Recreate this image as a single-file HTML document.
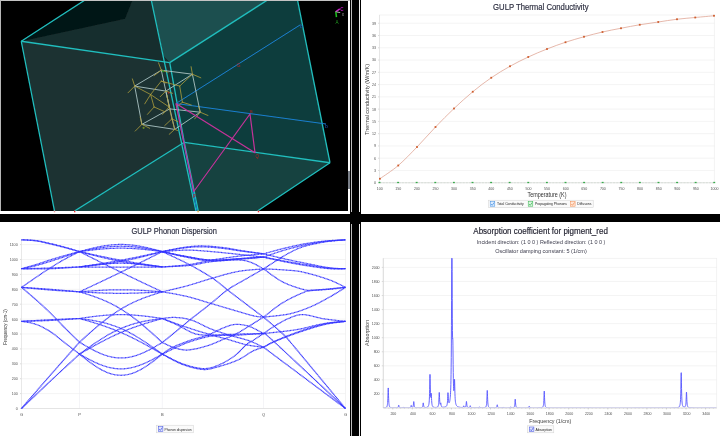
<!DOCTYPE html>
<html><head><meta charset="utf-8"><title>GULP plots</title>
<style>html,body{margin:0;padding:0;background:#000;overflow:hidden}svg{display:block}text{font-family:"Liberation Sans", sans-serif}</style>
</head><body>
<svg width="720" height="436" viewBox="0 0 720 436">
<defs><filter id="soft" x="0" y="0" width="100%" height="100%" filterUnits="userSpaceOnUse"><feGaussianBlur stdDeviation="0.35"/></filter></defs>
<rect x="0" y="0" width="720" height="436" fill="#000"/>
<g filter="url(#soft)">
<g shape-rendering="crispEdges">
<rect x="0" y="0" width="350" height="214" fill="#fff"/>
<rect x="0" y="0" width="350" height="1" fill="#c4c4c4"/>
<rect x="0" y="0" width="1" height="211" fill="#b8b8b8"/>
<rect x="1" y="1" width="347" height="209.5" fill="#000"/>
<rect x="351" y="0" width="1" height="212" fill="#bdbdbd"/>
<rect x="359" y="0" width="1" height="212" fill="#f0f0f0"/>
<rect x="351" y="224" width="1" height="212" fill="#bdbdbd"/>
<rect x="359" y="224" width="1" height="212" fill="#f0f0f0"/>
<rect x="361" y="0" width="359" height="214" fill="#fff"/>
<rect x="0" y="222" width="350" height="214" fill="#fff"/>
<rect x="361" y="222" width="359" height="214" fill="#fff"/>
</g>
<defs><clipPath id="ctl"><rect x="1" y="1" width="347" height="210"/></clipPath></defs>
<g clip-path="url(#ctl)">
<polygon points="21.25,41.25 85,0 151.25,0 163.5,56 169.7,62.6" fill="#162d2d" />
<polygon points="21.25,41.25 85,0 132.5,0 125,18.75" fill="#021616" />
<polygon points="21.25,41.25 169.7,62.6 184.3,142.3 74.5,211 54.5,211" fill="#1b3232" />
<polygon points="151.25,0 267.5,0 169.7,62.6 163.5,56" fill="#1c5050" />
<polygon points="169.7,62.6 267.5,0 297.5,0 330,162.75 184.3,142.3" fill="#0f3e3c" />
<polygon points="184.3,142.3 330,162.75 257.5,211 74.5,211" fill="#12423f" />
<line x1="21.25" y1="41.25" x2="85" y2="0" stroke="#21bebe" stroke-width="1.3" />
<line x1="21.25" y1="41.25" x2="169.7" y2="62.6" stroke="#21bebe" stroke-width="1.3" />
<line x1="21.25" y1="41.25" x2="54.5" y2="211" stroke="#21bebe" stroke-width="1.3" />
<line x1="169.7" y1="62.6" x2="267.5" y2="0" stroke="#21bebe" stroke-width="1.3" />
<line x1="151.25" y1="0" x2="195.9" y2="211" stroke="#21bebe" stroke-width="1.3" />
<line x1="169.7" y1="62.6" x2="184.3" y2="142.3" stroke="#21bebe" stroke-width="1.3" />
<line x1="330" y1="162.75" x2="297.5" y2="0" stroke="#21bebe" stroke-width="1.3" />
<line x1="330" y1="162.75" x2="184.3" y2="142.3" stroke="#21bebe" stroke-width="1.3" />
<line x1="330" y1="162.75" x2="257.5" y2="211" stroke="#21bebe" stroke-width="1.3" />
<line x1="184.3" y1="142.3" x2="74.5" y2="211" stroke="#21bebe" stroke-width="1.3" />
<line x1="184.3" y1="142.3" x2="198.2" y2="211" stroke="#21bebe" stroke-width="1.3" />
<line x1="176" y1="103.5" x2="300" y2="25" stroke="#1a7fd0" stroke-width="1" />
<line x1="176" y1="103.5" x2="326" y2="124" stroke="#1a7fd0" stroke-width="1" />
<line x1="176" y1="103.5" x2="197" y2="211" stroke="#1a7fd0" stroke-width="1" />
<line x1="161.3" y1="70.2" x2="192.4" y2="74.2" stroke="#b4cccc" stroke-width="1" opacity="0.85"/>
<line x1="192.4" y1="74.2" x2="165.8" y2="91.1" stroke="#b4cccc" stroke-width="1" opacity="0.85"/>
<line x1="165.8" y1="91.1" x2="134.7" y2="86.1" stroke="#b4cccc" stroke-width="1" opacity="0.85"/>
<line x1="134.7" y1="86.1" x2="161.3" y2="70.2" stroke="#b4cccc" stroke-width="1" opacity="0.85"/>
<line x1="169.7" y1="108.9" x2="200.2" y2="112.2" stroke="#b4cccc" stroke-width="1" opacity="0.85"/>
<line x1="200.2" y1="112.2" x2="174.7" y2="129.4" stroke="#b4cccc" stroke-width="1" opacity="0.85"/>
<line x1="174.7" y1="129.4" x2="141.9" y2="124.4" stroke="#b4cccc" stroke-width="1" opacity="0.85"/>
<line x1="141.9" y1="124.4" x2="169.7" y2="108.9" stroke="#b4cccc" stroke-width="1" opacity="0.85"/>
<line x1="161.3" y1="70.2" x2="169.7" y2="108.9" stroke="#b4cccc" stroke-width="1" opacity="0.85"/>
<line x1="192.4" y1="74.2" x2="200.2" y2="112.2" stroke="#b4cccc" stroke-width="1" opacity="0.85"/>
<line x1="165.8" y1="91.1" x2="174.7" y2="129.4" stroke="#b4cccc" stroke-width="1" opacity="0.85"/>
<line x1="134.7" y1="86.1" x2="141.9" y2="124.4" stroke="#b4cccc" stroke-width="1" opacity="0.85"/>
<line x1="161.3" y1="70.2" x2="158.5" y2="62.8" stroke="#ad9c3c" stroke-width="0.95" stroke-linecap="round" opacity="0.85"/>
<line x1="161.3" y1="70.2" x2="154.1" y2="75.6" stroke="#ad9c3c" stroke-width="0.95" stroke-linecap="round" opacity="0.85"/>
<line x1="161.3" y1="70.2" x2="168" y2="72.2" stroke="#ad9c3c" stroke-width="0.95" stroke-linecap="round" opacity="0.85"/>
<line x1="192.4" y1="74.2" x2="191.1" y2="66.7" stroke="#ad9c3c" stroke-width="0.95" stroke-linecap="round" opacity="0.85"/>
<line x1="192.4" y1="74.2" x2="200.8" y2="77.8" stroke="#ad9c3c" stroke-width="0.95" stroke-linecap="round" opacity="0.85"/>
<line x1="192.4" y1="74.2" x2="179.7" y2="86.1" stroke="#ad9c3c" stroke-width="0.95" stroke-linecap="round" opacity="0.85"/>
<line x1="134.7" y1="86.1" x2="132.4" y2="78.9" stroke="#ad9c3c" stroke-width="0.95" stroke-linecap="round" opacity="0.85"/>
<line x1="134.7" y1="86.1" x2="128" y2="92.8" stroke="#ad9c3c" stroke-width="0.95" stroke-linecap="round" opacity="0.85"/>
<line x1="134.7" y1="86.1" x2="150.6" y2="94.5" stroke="#ad9c3c" stroke-width="0.95" stroke-linecap="round" opacity="0.85"/>
<line x1="150.6" y1="94.5" x2="161.3" y2="81.1" stroke="#ad9c3c" stroke-width="0.95" stroke-linecap="round" opacity="0.85"/>
<line x1="150.6" y1="94.5" x2="154.1" y2="107" stroke="#ad9c3c" stroke-width="0.95" stroke-linecap="round" opacity="0.85"/>
<line x1="161.3" y1="81.1" x2="179.7" y2="86.1" stroke="#ad9c3c" stroke-width="0.95" stroke-linecap="round" opacity="0.85"/>
<line x1="179.7" y1="86.1" x2="182.4" y2="102.2" stroke="#ad9c3c" stroke-width="0.95" stroke-linecap="round" opacity="0.85"/>
<line x1="161.3" y1="81.1" x2="166" y2="83" stroke="#ad9c3c" stroke-width="0.95" stroke-linecap="round" opacity="0.85"/>
<line x1="165.8" y1="91.1" x2="160.2" y2="96.7" stroke="#ad9c3c" stroke-width="0.95" stroke-linecap="round" opacity="0.85"/>
<line x1="165.8" y1="91.1" x2="172.5" y2="93.3" stroke="#ad9c3c" stroke-width="0.95" stroke-linecap="round" opacity="0.85"/>
<line x1="182.4" y1="102.2" x2="191.3" y2="105" stroke="#ad9c3c" stroke-width="0.95" stroke-linecap="round" opacity="0.85"/>
<line x1="182.4" y1="102.2" x2="178" y2="106" stroke="#ad9c3c" stroke-width="0.95" stroke-linecap="round" opacity="0.85"/>
<line x1="141.9" y1="124.4" x2="135.2" y2="131.1" stroke="#ad9c3c" stroke-width="0.95" stroke-linecap="round" opacity="0.85"/>
<line x1="141.9" y1="124.4" x2="149.7" y2="128.3" stroke="#ad9c3c" stroke-width="0.95" stroke-linecap="round" opacity="0.85"/>
<line x1="141.9" y1="124.4" x2="140.2" y2="117.2" stroke="#ad9c3c" stroke-width="0.95" stroke-linecap="round" opacity="0.85"/>
<line x1="174.7" y1="129.4" x2="169.1" y2="134.4" stroke="#ad9c3c" stroke-width="0.95" stroke-linecap="round" opacity="0.85"/>
<line x1="174.7" y1="129.4" x2="171.9" y2="118.9" stroke="#ad9c3c" stroke-width="0.95" stroke-linecap="round" opacity="0.85"/>
<line x1="174.7" y1="129.4" x2="177.5" y2="130.5" stroke="#ad9c3c" stroke-width="0.95" stroke-linecap="round" opacity="0.85"/>
<line x1="200.2" y1="112.2" x2="208" y2="115.5" stroke="#ad9c3c" stroke-width="0.95" stroke-linecap="round" opacity="0.85"/>
<line x1="200.2" y1="112.2" x2="194.7" y2="118.9" stroke="#ad9c3c" stroke-width="0.95" stroke-linecap="round" opacity="0.85"/>
<line x1="200.2" y1="112.2" x2="198.5" y2="106" stroke="#ad9c3c" stroke-width="0.95" stroke-linecap="round" opacity="0.85"/>
<line x1="150.6" y1="94.5" x2="144.7" y2="103.9" stroke="#ad9c3c" stroke-width="0.95" stroke-linecap="round" opacity="0.85"/>
<line x1="150.6" y1="94.5" x2="169.1" y2="107" stroke="#ad9c3c" stroke-width="0.95" stroke-linecap="round" opacity="0.85"/>
<line x1="154.1" y1="107" x2="147.4" y2="114.4" stroke="#ad9c3c" stroke-width="0.95" stroke-linecap="round" opacity="0.85"/>
<line x1="154.1" y1="107" x2="164.7" y2="111.7" stroke="#ad9c3c" stroke-width="0.95" stroke-linecap="round" opacity="0.85"/>
<line x1="169.1" y1="107" x2="166.9" y2="95" stroke="#ad9c3c" stroke-width="0.95" stroke-linecap="round" opacity="0.85"/>
<line x1="169.1" y1="107" x2="171.9" y2="118.9" stroke="#ad9c3c" stroke-width="0.95" stroke-linecap="round" opacity="0.85"/>
<line x1="169.1" y1="107" x2="162.4" y2="114.4" stroke="#ad9c3c" stroke-width="0.95" stroke-linecap="round" opacity="0.85"/>
<line x1="171.9" y1="118.9" x2="164.7" y2="125.6" stroke="#ad9c3c" stroke-width="0.95" stroke-linecap="round" opacity="0.85"/>
<line x1="171.9" y1="118.9" x2="178" y2="121.7" stroke="#ad9c3c" stroke-width="0.95" stroke-linecap="round" opacity="0.85"/>
<circle cx="163" cy="71.3" r="1" fill="#2a9a2a"/>
<circle cx="168.6" cy="92.8" r="0.9" fill="#a02828"/>
<circle cx="143.6" cy="127.8" r="1.1" fill="#6c8a22"/>
<polyline points="176,103.5 255,152.75 250,114 193.75,191.5 176,103.5" fill="none" stroke="#c4329a" stroke-width="1.2" stroke-linejoin="round"/>
<text x="237" y="67" font-size="4.5" fill="#c02020">G</text>
<text x="255.5" y="158" font-size="4.5" fill="#c02020">Q</text>
<text x="193" y="198" font-size="4.5" fill="#c02020">P</text>
<text x="250" y="113" font-size="4" fill="#c02020">B</text>
<text x="300" y="28" font-size="5" fill="#1a58c0">b</text>
<text x="325" y="128" font-size="5" fill="#1a58c0">b</text>
<line x1="335.6" y1="11.8" x2="339.8" y2="8.9" stroke="#c822c8" stroke-width="1.5" />
<line x1="335.6" y1="11.8" x2="340.2" y2="12.6" stroke="#b8b8b8" stroke-width="0.9" />
<line x1="335.8" y1="11.8" x2="336.5" y2="17.2" stroke="#20c020" stroke-width="1.5" />
<text x="340.2" y="10.7" font-size="4.6" font-weight="bold" fill="#b818b8">C</text>
<text x="335.6" y="23.7" font-size="4.6" fill="#1f9a1f">A</text>
<text x="341.8" y="15.6" font-size="4.6" fill="#9a9a9a">x</text>
</g>
<rect x="348" y="171" width="2" height="18" fill="#7a7f88"/>
<rect x="53.8" y="210.6" width="1.4" height="1.7" fill="#f49a9a"/>
<rect x="74" y="210.6" width="1.4" height="1.7" fill="#f03030"/>
<rect x="197.4" y="210.6" width="1.4" height="1.7" fill="#f0b040"/>
<rect x="257.8" y="210.6" width="1.4" height="1.7" fill="#f03030"/>
<g>
<text x="540.8" y="9.5" font-size="8.2" fill="#2e3042" text-anchor="middle" textLength="95.5" lengthAdjust="spacingAndGlyphs"  stroke="#2e3042" stroke-width="0.18">GULP Thermal Conductivity</text>
<rect x="379.5" y="15" width="334.75" height="167.75" fill="#fff" stroke="#ececec" stroke-width="0.6"/>
<line x1="379.5" y1="170.48" x2="714.25" y2="170.48" stroke="#ececec" stroke-width="0.6"/>
<line x1="379.5" y1="158.21" x2="714.25" y2="158.21" stroke="#ececec" stroke-width="0.6"/>
<line x1="379.5" y1="145.94" x2="714.25" y2="145.94" stroke="#ececec" stroke-width="0.6"/>
<line x1="379.5" y1="133.67" x2="714.25" y2="133.67" stroke="#ececec" stroke-width="0.6"/>
<line x1="379.5" y1="121.4" x2="714.25" y2="121.4" stroke="#ececec" stroke-width="0.6"/>
<line x1="379.5" y1="109.13" x2="714.25" y2="109.13" stroke="#ececec" stroke-width="0.6"/>
<line x1="379.5" y1="96.87" x2="714.25" y2="96.87" stroke="#ececec" stroke-width="0.6"/>
<line x1="379.5" y1="84.6" x2="714.25" y2="84.6" stroke="#ececec" stroke-width="0.6"/>
<line x1="379.5" y1="72.33" x2="714.25" y2="72.33" stroke="#ececec" stroke-width="0.6"/>
<line x1="379.5" y1="60.06" x2="714.25" y2="60.06" stroke="#ececec" stroke-width="0.6"/>
<line x1="379.5" y1="47.79" x2="714.25" y2="47.79" stroke="#ececec" stroke-width="0.6"/>
<line x1="379.5" y1="35.52" x2="714.25" y2="35.52" stroke="#ececec" stroke-width="0.6"/>
<line x1="379.5" y1="23.25" x2="714.25" y2="23.25" stroke="#ececec" stroke-width="0.6"/>
<text x="376" y="184.15" font-size="4.2" fill="#505050" text-anchor="end" textLength="2.05" lengthAdjust="spacingAndGlyphs" >0</text>
<line x1="378" y1="182.75" x2="379.5" y2="182.75" stroke="#bbb" stroke-width="0.5"/>
<text x="376" y="171.88" font-size="4.2" fill="#505050" text-anchor="end" textLength="2.05" lengthAdjust="spacingAndGlyphs" >3</text>
<line x1="378" y1="170.48" x2="379.5" y2="170.48" stroke="#bbb" stroke-width="0.5"/>
<text x="376" y="159.61" font-size="4.2" fill="#505050" text-anchor="end" textLength="2.05" lengthAdjust="spacingAndGlyphs" >6</text>
<line x1="378" y1="158.21" x2="379.5" y2="158.21" stroke="#bbb" stroke-width="0.5"/>
<text x="376" y="147.34" font-size="4.2" fill="#505050" text-anchor="end" textLength="2.05" lengthAdjust="spacingAndGlyphs" >9</text>
<line x1="378" y1="145.94" x2="379.5" y2="145.94" stroke="#bbb" stroke-width="0.5"/>
<text x="376" y="135.07" font-size="4.2" fill="#505050" text-anchor="end" textLength="4" lengthAdjust="spacingAndGlyphs" >12</text>
<line x1="378" y1="133.67" x2="379.5" y2="133.67" stroke="#bbb" stroke-width="0.5"/>
<text x="376" y="122.8" font-size="4.2" fill="#505050" text-anchor="end" textLength="4" lengthAdjust="spacingAndGlyphs" >15</text>
<line x1="378" y1="121.4" x2="379.5" y2="121.4" stroke="#bbb" stroke-width="0.5"/>
<text x="376" y="110.53" font-size="4.2" fill="#505050" text-anchor="end" textLength="4" lengthAdjust="spacingAndGlyphs" >18</text>
<line x1="378" y1="109.13" x2="379.5" y2="109.13" stroke="#bbb" stroke-width="0.5"/>
<text x="376" y="98.27" font-size="4.2" fill="#505050" text-anchor="end" textLength="4" lengthAdjust="spacingAndGlyphs" >21</text>
<line x1="378" y1="96.87" x2="379.5" y2="96.87" stroke="#bbb" stroke-width="0.5"/>
<text x="376" y="86" font-size="4.2" fill="#505050" text-anchor="end" textLength="4" lengthAdjust="spacingAndGlyphs" >24</text>
<line x1="378" y1="84.6" x2="379.5" y2="84.6" stroke="#bbb" stroke-width="0.5"/>
<text x="376" y="73.73" font-size="4.2" fill="#505050" text-anchor="end" textLength="4" lengthAdjust="spacingAndGlyphs" >27</text>
<line x1="378" y1="72.33" x2="379.5" y2="72.33" stroke="#bbb" stroke-width="0.5"/>
<text x="376" y="61.46" font-size="4.2" fill="#505050" text-anchor="end" textLength="4" lengthAdjust="spacingAndGlyphs" >30</text>
<line x1="378" y1="60.06" x2="379.5" y2="60.06" stroke="#bbb" stroke-width="0.5"/>
<text x="376" y="49.19" font-size="4.2" fill="#505050" text-anchor="end" textLength="4" lengthAdjust="spacingAndGlyphs" >33</text>
<line x1="378" y1="47.79" x2="379.5" y2="47.79" stroke="#bbb" stroke-width="0.5"/>
<text x="376" y="36.92" font-size="4.2" fill="#505050" text-anchor="end" textLength="4" lengthAdjust="spacingAndGlyphs" >36</text>
<line x1="378" y1="35.52" x2="379.5" y2="35.52" stroke="#bbb" stroke-width="0.5"/>
<text x="376" y="24.65" font-size="4.2" fill="#505050" text-anchor="end" textLength="4" lengthAdjust="spacingAndGlyphs" >39</text>
<line x1="378" y1="23.25" x2="379.5" y2="23.25" stroke="#bbb" stroke-width="0.5"/>
<line x1="379.5" y1="15" x2="379.5" y2="182.75" stroke="#e0e0e0" stroke-width="0.7"/>
<line x1="379.5" y1="182.75" x2="714.25" y2="182.75" stroke="#e0e0e0" stroke-width="0.7"/>
<text x="379.7" y="190" font-size="4.2" fill="#505050" text-anchor="middle" textLength="5.95" lengthAdjust="spacingAndGlyphs" >100</text>
<text x="398.3" y="190" font-size="4.2" fill="#505050" text-anchor="middle" textLength="5.95" lengthAdjust="spacingAndGlyphs" >150</text>
<text x="416.89" y="190" font-size="4.2" fill="#505050" text-anchor="middle" textLength="5.95" lengthAdjust="spacingAndGlyphs" >200</text>
<text x="435.49" y="190" font-size="4.2" fill="#505050" text-anchor="middle" textLength="5.95" lengthAdjust="spacingAndGlyphs" >250</text>
<text x="454.09" y="190" font-size="4.2" fill="#505050" text-anchor="middle" textLength="5.95" lengthAdjust="spacingAndGlyphs" >300</text>
<text x="472.69" y="190" font-size="4.2" fill="#505050" text-anchor="middle" textLength="5.95" lengthAdjust="spacingAndGlyphs" >350</text>
<text x="491.28" y="190" font-size="4.2" fill="#505050" text-anchor="middle" textLength="5.95" lengthAdjust="spacingAndGlyphs" >400</text>
<text x="509.88" y="190" font-size="4.2" fill="#505050" text-anchor="middle" textLength="5.95" lengthAdjust="spacingAndGlyphs" >450</text>
<text x="528.48" y="190" font-size="4.2" fill="#505050" text-anchor="middle" textLength="5.95" lengthAdjust="spacingAndGlyphs" >500</text>
<text x="547.08" y="190" font-size="4.2" fill="#505050" text-anchor="middle" textLength="5.95" lengthAdjust="spacingAndGlyphs" >550</text>
<text x="565.67" y="190" font-size="4.2" fill="#505050" text-anchor="middle" textLength="5.95" lengthAdjust="spacingAndGlyphs" >600</text>
<text x="584.27" y="190" font-size="4.2" fill="#505050" text-anchor="middle" textLength="5.95" lengthAdjust="spacingAndGlyphs" >650</text>
<text x="602.87" y="190" font-size="4.2" fill="#505050" text-anchor="middle" textLength="5.95" lengthAdjust="spacingAndGlyphs" >700</text>
<text x="621.46" y="190" font-size="4.2" fill="#505050" text-anchor="middle" textLength="5.95" lengthAdjust="spacingAndGlyphs" >750</text>
<text x="640.06" y="190" font-size="4.2" fill="#505050" text-anchor="middle" textLength="5.95" lengthAdjust="spacingAndGlyphs" >800</text>
<text x="658.66" y="190" font-size="4.2" fill="#505050" text-anchor="middle" textLength="5.95" lengthAdjust="spacingAndGlyphs" >850</text>
<text x="677.26" y="190" font-size="4.2" fill="#505050" text-anchor="middle" textLength="5.95" lengthAdjust="spacingAndGlyphs" >900</text>
<text x="695.85" y="190" font-size="4.2" fill="#505050" text-anchor="middle" textLength="5.95" lengthAdjust="spacingAndGlyphs" >950</text>
<text x="714.45" y="190" font-size="4.2" fill="#505050" text-anchor="middle" textLength="7.9" lengthAdjust="spacingAndGlyphs" >1000</text>
<text transform="translate(368.6,99.5) rotate(-90)" font-size="5.8" fill="#3c3c3c" text-anchor="middle" textLength="71" lengthAdjust="spacingAndGlyphs">Thermal conductivity (W/m/K)</text>
<text x="547" y="196.8" font-size="6.6" fill="#333" text-anchor="middle" textLength="39" lengthAdjust="spacingAndGlyphs" >Temperature (K)</text>
<line x1="379.5" y1="182.75" x2="714.25" y2="182.75" stroke="#ccd8cc" stroke-width="0.6" stroke-dasharray="2 1.2"/>
<rect x="378.55" y="181.85" width="1.9" height="1.3" fill="#38aa4c"/>
<rect x="397.15" y="181.85" width="1.9" height="1.3" fill="#38aa4c"/>
<rect x="415.74" y="181.85" width="1.9" height="1.3" fill="#38aa4c"/>
<rect x="434.34" y="181.85" width="1.9" height="1.3" fill="#38aa4c"/>
<rect x="452.94" y="181.85" width="1.9" height="1.3" fill="#38aa4c"/>
<rect x="471.54" y="181.85" width="1.9" height="1.3" fill="#38aa4c"/>
<rect x="490.13" y="181.85" width="1.9" height="1.3" fill="#38aa4c"/>
<rect x="508.73" y="181.85" width="1.9" height="1.3" fill="#38aa4c"/>
<rect x="527.33" y="181.85" width="1.9" height="1.3" fill="#38aa4c"/>
<rect x="545.92" y="181.85" width="1.9" height="1.3" fill="#38aa4c"/>
<rect x="564.52" y="181.85" width="1.9" height="1.3" fill="#38aa4c"/>
<rect x="583.12" y="181.85" width="1.9" height="1.3" fill="#38aa4c"/>
<rect x="601.72" y="181.85" width="1.9" height="1.3" fill="#38aa4c"/>
<rect x="620.31" y="181.85" width="1.9" height="1.3" fill="#38aa4c"/>
<rect x="638.91" y="181.85" width="1.9" height="1.3" fill="#38aa4c"/>
<rect x="657.51" y="181.85" width="1.9" height="1.3" fill="#38aa4c"/>
<rect x="676.11" y="181.85" width="1.9" height="1.3" fill="#38aa4c"/>
<rect x="694.7" y="181.85" width="1.9" height="1.3" fill="#38aa4c"/>
<rect x="713.3" y="181.85" width="1.9" height="1.3" fill="#38aa4c"/>
<path d="M379.9,178.75C382.96,176.54 392.07,170.79 398.25,165.5C404.43,160.21 410.79,153.42 417,147C423.21,140.58 429.33,133.42 435.5,127C441.67,120.58 447.79,114.38 454,108.5C460.21,102.62 466.54,96.88 472.75,91.75C478.96,86.62 485.04,82 491.25,77.75C497.46,73.5 503.83,69.71 510,66.25C516.17,62.79 522.08,59.88 528.25,57C534.42,54.12 540.79,51.46 547,49C553.21,46.54 559.33,44.29 565.5,42.25C571.67,40.21 577.83,38.46 584,36.75C590.17,35.04 596.33,33.42 602.5,32C608.67,30.58 614.79,29.46 621,28.25C627.21,27.04 633.54,25.79 639.75,24.75C645.96,23.71 652.04,22.92 658.25,22C664.46,21.08 670.83,20 677,19.25C683.17,18.5 689.08,18.08 695.25,17.5C701.42,16.92 710.88,16.04 714,15.75" fill="none" stroke="#dfa696" stroke-width="0.8"/>
<rect x="379" y="177.85" width="1.8" height="1.8" fill="#cf5f2f"/>
<rect x="397.35" y="164.6" width="1.8" height="1.8" fill="#cf5f2f"/>
<rect x="416.1" y="146.1" width="1.8" height="1.8" fill="#cf5f2f"/>
<rect x="434.6" y="126.1" width="1.8" height="1.8" fill="#cf5f2f"/>
<rect x="453.1" y="107.6" width="1.8" height="1.8" fill="#cf5f2f"/>
<rect x="471.85" y="90.85" width="1.8" height="1.8" fill="#cf5f2f"/>
<rect x="490.35" y="76.85" width="1.8" height="1.8" fill="#cf5f2f"/>
<rect x="509.1" y="65.35" width="1.8" height="1.8" fill="#cf5f2f"/>
<rect x="527.35" y="56.1" width="1.8" height="1.8" fill="#cf5f2f"/>
<rect x="546.1" y="48.1" width="1.8" height="1.8" fill="#cf5f2f"/>
<rect x="564.6" y="41.35" width="1.8" height="1.8" fill="#cf5f2f"/>
<rect x="583.1" y="35.85" width="1.8" height="1.8" fill="#cf5f2f"/>
<rect x="601.6" y="31.1" width="1.8" height="1.8" fill="#cf5f2f"/>
<rect x="620.1" y="27.35" width="1.8" height="1.8" fill="#cf5f2f"/>
<rect x="638.85" y="23.85" width="1.8" height="1.8" fill="#cf5f2f"/>
<rect x="657.35" y="21.1" width="1.8" height="1.8" fill="#cf5f2f"/>
<rect x="676.1" y="18.35" width="1.8" height="1.8" fill="#cf5f2f"/>
<rect x="694.35" y="16.6" width="1.8" height="1.8" fill="#cf5f2f"/>
<rect x="713.1" y="14.85" width="1.8" height="1.8" fill="#cf5f2f"/>
<rect x="488.7" y="200.2" width="104.5" height="7.5" fill="#fafafa" stroke="#d0d0d0" stroke-width="0.5"/>
<rect x="490.2" y="201.6" width="4.6" height="4.6" fill="#dcecff" stroke="#3a8be0" stroke-width="0.5"/>
<path d="M491,204 l1.2,1.3 l2,-2.8" fill="none" stroke="#3a8be0" stroke-width="0.7"/>
<text x="497" y="205.4" font-size="4.2" fill="#222" text-anchor="start" textLength="26.7" lengthAdjust="spacingAndGlyphs" >Total Conductivity</text>
<rect x="528.2" y="201.6" width="4.6" height="4.6" fill="#dcf5e0" stroke="#2fb24a" stroke-width="0.5"/>
<path d="M529,204 l1.2,1.3 l2,-2.8" fill="none" stroke="#2fb24a" stroke-width="0.7"/>
<text x="535" y="205.4" font-size="4.2" fill="#222" text-anchor="start" textLength="32" lengthAdjust="spacingAndGlyphs" >Propagating Phonons</text>
<rect x="570.5" y="201.6" width="4.6" height="4.6" fill="#ffe6d6" stroke="#f0884a" stroke-width="0.5"/>
<path d="M571.3,204 l1.2,1.3 l2,-2.8" fill="none" stroke="#f0884a" stroke-width="0.7"/>
<text x="577.2" y="205.4" font-size="4.2" fill="#222" text-anchor="start" textLength="14.2" lengthAdjust="spacingAndGlyphs" >Diffusons</text>
</g>
<g>
<text x="174.2" y="233.8" font-size="8.2" fill="#2e3042" text-anchor="middle" textLength="85.5" lengthAdjust="spacingAndGlyphs"  stroke="#2e3042" stroke-width="0.18">GULP Phonon Dispersion</text>
<rect x="21.5" y="239.4" width="324" height="169.1" fill="#fff" stroke="#ececec" stroke-width="0.6"/>
<line x1="21.5" y1="393.6" x2="345.5" y2="393.6" stroke="#ececec" stroke-width="0.6"/>
<line x1="21.5" y1="378.7" x2="345.5" y2="378.7" stroke="#ececec" stroke-width="0.6"/>
<line x1="21.5" y1="363.8" x2="345.5" y2="363.8" stroke="#ececec" stroke-width="0.6"/>
<line x1="21.5" y1="348.9" x2="345.5" y2="348.9" stroke="#ececec" stroke-width="0.6"/>
<line x1="21.5" y1="334" x2="345.5" y2="334" stroke="#ececec" stroke-width="0.6"/>
<line x1="21.5" y1="319.1" x2="345.5" y2="319.1" stroke="#ececec" stroke-width="0.6"/>
<line x1="21.5" y1="304.2" x2="345.5" y2="304.2" stroke="#ececec" stroke-width="0.6"/>
<line x1="21.5" y1="289.3" x2="345.5" y2="289.3" stroke="#ececec" stroke-width="0.6"/>
<line x1="21.5" y1="274.4" x2="345.5" y2="274.4" stroke="#ececec" stroke-width="0.6"/>
<line x1="21.5" y1="259.5" x2="345.5" y2="259.5" stroke="#ececec" stroke-width="0.6"/>
<line x1="21.5" y1="244.6" x2="345.5" y2="244.6" stroke="#ececec" stroke-width="0.6"/>
<text x="17.7" y="409.95" font-size="4.2" fill="#505050" text-anchor="end" textLength="2.05" lengthAdjust="spacingAndGlyphs" >0</text>
<line x1="20" y1="408.5" x2="21.5" y2="408.5" stroke="#bbb" stroke-width="0.5"/>
<text x="17.7" y="395.05" font-size="4.2" fill="#505050" text-anchor="end" textLength="5.95" lengthAdjust="spacingAndGlyphs" >100</text>
<line x1="20" y1="393.6" x2="21.5" y2="393.6" stroke="#bbb" stroke-width="0.5"/>
<text x="17.7" y="380.15" font-size="4.2" fill="#505050" text-anchor="end" textLength="5.95" lengthAdjust="spacingAndGlyphs" >200</text>
<line x1="20" y1="378.7" x2="21.5" y2="378.7" stroke="#bbb" stroke-width="0.5"/>
<text x="17.7" y="365.25" font-size="4.2" fill="#505050" text-anchor="end" textLength="5.95" lengthAdjust="spacingAndGlyphs" >300</text>
<line x1="20" y1="363.8" x2="21.5" y2="363.8" stroke="#bbb" stroke-width="0.5"/>
<text x="17.7" y="350.35" font-size="4.2" fill="#505050" text-anchor="end" textLength="5.95" lengthAdjust="spacingAndGlyphs" >400</text>
<line x1="20" y1="348.9" x2="21.5" y2="348.9" stroke="#bbb" stroke-width="0.5"/>
<text x="17.7" y="335.45" font-size="4.2" fill="#505050" text-anchor="end" textLength="5.95" lengthAdjust="spacingAndGlyphs" >500</text>
<line x1="20" y1="334" x2="21.5" y2="334" stroke="#bbb" stroke-width="0.5"/>
<text x="17.7" y="320.55" font-size="4.2" fill="#505050" text-anchor="end" textLength="5.95" lengthAdjust="spacingAndGlyphs" >600</text>
<line x1="20" y1="319.1" x2="21.5" y2="319.1" stroke="#bbb" stroke-width="0.5"/>
<text x="17.7" y="305.65" font-size="4.2" fill="#505050" text-anchor="end" textLength="5.95" lengthAdjust="spacingAndGlyphs" >700</text>
<line x1="20" y1="304.2" x2="21.5" y2="304.2" stroke="#bbb" stroke-width="0.5"/>
<text x="17.7" y="290.75" font-size="4.2" fill="#505050" text-anchor="end" textLength="5.95" lengthAdjust="spacingAndGlyphs" >800</text>
<line x1="20" y1="289.3" x2="21.5" y2="289.3" stroke="#bbb" stroke-width="0.5"/>
<text x="17.7" y="275.85" font-size="4.2" fill="#505050" text-anchor="end" textLength="5.95" lengthAdjust="spacingAndGlyphs" >900</text>
<line x1="20" y1="274.4" x2="21.5" y2="274.4" stroke="#bbb" stroke-width="0.5"/>
<text x="17.7" y="260.95" font-size="4.2" fill="#505050" text-anchor="end" textLength="7.9" lengthAdjust="spacingAndGlyphs" >1000</text>
<line x1="20" y1="259.5" x2="21.5" y2="259.5" stroke="#bbb" stroke-width="0.5"/>
<text x="17.7" y="246.05" font-size="4.2" fill="#505050" text-anchor="end" textLength="7.9" lengthAdjust="spacingAndGlyphs" >1100</text>
<line x1="20" y1="244.6" x2="21.5" y2="244.6" stroke="#bbb" stroke-width="0.5"/>
<line x1="79.5" y1="239.4" x2="79.5" y2="408.5" stroke="#ededf2" stroke-width="0.6"/>
<line x1="162.3" y1="239.4" x2="162.3" y2="408.5" stroke="#ededf2" stroke-width="0.6"/>
<line x1="263.5" y1="239.4" x2="263.5" y2="408.5" stroke="#ededf2" stroke-width="0.6"/>
<line x1="21.5" y1="239.4" x2="21.5" y2="408.5" stroke="#e2e2e2" stroke-width="0.7"/>
<line x1="21.5" y1="408.5" x2="345.5" y2="408.5" stroke="#dcdcdc" stroke-width="0.7"/>
<text x="21.5" y="416" font-size="4.1" fill="#505050" text-anchor="middle" >G</text>
<text x="79.5" y="416" font-size="4.1" fill="#505050" text-anchor="middle" >P</text>
<text x="162.3" y="416" font-size="4.1" fill="#505050" text-anchor="middle" >B</text>
<text x="263.5" y="416" font-size="4.1" fill="#505050" text-anchor="middle" >Q</text>
<text x="345.5" y="416" font-size="4.1" fill="#505050" text-anchor="middle" >G</text>
<text transform="translate(6.6,327) rotate(-90)" font-size="6" fill="#333" text-anchor="middle" textLength="35.5" lengthAdjust="spacingAndGlyphs">Frequency (cm-1)</text>
<g fill="none" stroke="#1c1cff" stroke-width="1.25" stroke-dasharray="1.0 0.4" opacity="0.9">
<path d="M21.5,239.83C23.92,239.96 31.17,239.96 36,240.58C40.83,241.2 45.67,242.44 50.5,243.56C55.33,244.67 60.17,245.94 65,247.28C69.83,248.62 77.08,250.88 79.5,251.6"/>
<path d="M21.5,239.83C23.92,240.01 31.17,240.2 36,240.89C40.83,241.59 45.67,242.89 50.5,244C55.33,245.12 60.17,246.33 65,247.6C69.83,248.86 77.08,250.94 79.5,251.6"/>
<path d="M21.5,268.74C23.92,268.04 31.17,266.06 36,264.57C40.83,263.08 45.67,261.31 50.5,259.8C55.33,258.28 60.17,256.84 65,255.48C69.83,254.11 77.08,252.25 79.5,251.6"/>
<path d="M21.5,268.74C23.92,268.22 31.17,266.86 36,265.62C40.83,264.38 45.67,262.8 50.5,261.29C55.33,259.77 60.17,258.14 65,256.53C69.83,254.92 77.08,252.42 79.5,251.6"/>
<path d="M21.5,268.74C26.33,268.61 40.83,268.29 50.5,267.99C60.17,267.69 74.67,267.12 79.5,266.95"/>
<path d="M21.5,268.74C26.33,268.74 40.83,269.04 50.5,268.74C60.17,268.44 74.67,267.25 79.5,266.95"/>
<path d="M21.5,287.36C23.92,285.7 31.17,280.66 36,277.38C40.83,274.1 45.67,270.75 50.5,267.69C55.33,264.64 60.17,261.74 65,259.05C69.83,256.37 77.08,252.84 79.5,251.6"/>
<path d="M21.5,287.36C26.33,287.69 40.83,288.56 50.5,289.3C60.17,290.05 74.67,291.41 79.5,291.83"/>
<path d="M21.5,287.36C26.33,287.81 40.83,289.3 50.5,290.05C60.17,290.79 74.67,291.53 79.5,291.83"/>
<path d="M21.5,287.36C23.92,289.42 31.17,295.43 36,299.73C40.83,304.03 45.67,308.42 50.5,313.14C55.33,317.86 60.17,323.2 65,328.04C69.83,332.88 77.08,339.84 79.5,342.19"/>
<path d="M21.5,321.34C26.33,321.06 40.83,320.17 50.5,319.7C60.17,319.22 74.67,318.7 79.5,318.5"/>
<path d="M21.5,321.34C26.33,321.19 40.83,320.91 50.5,320.44C60.17,319.97 74.67,318.83 79.5,318.5"/>
<path d="M21.5,321.34C23.92,321.83 31.17,322.58 36,324.31C40.83,326.05 45.67,328.66 50.5,331.76C55.33,334.87 60.17,339.21 65,342.94C69.83,346.67 77.08,352.25 79.5,354.12"/>
<path d="M21.5,408.5C26.33,402.91 40.83,386.03 50.5,374.98C60.17,363.92 74.67,347.66 79.5,342.19"/>
<path d="M21.5,408.5C26.33,403.91 40.83,390 50.5,380.94C60.17,371.87 74.67,358.59 79.5,354.12"/>
<path d="M79.5,251.6C81.22,251.15 86.4,249.71 89.85,248.87C93.3,248.02 96.75,247.19 100.2,246.55C103.65,245.9 107.1,245.34 110.55,245C114,244.65 117.45,244.45 120.9,244.45C124.35,244.45 127.8,244.65 131.25,245C134.7,245.34 138.15,245.9 141.6,246.55C145.05,247.19 148.5,248.02 151.95,248.87C155.4,249.71 160.58,251.15 162.3,251.6"/>
<path d="M79.5,251.6C81.22,251.26 86.4,250.18 89.85,249.55C93.3,248.92 96.75,248.29 100.2,247.81C103.65,247.33 107.1,246.91 110.55,246.65C114,246.39 117.45,246.24 120.9,246.24C124.35,246.24 127.8,246.39 131.25,246.65C134.7,246.91 138.15,247.33 141.6,247.81C145.05,248.29 148.5,248.92 151.95,249.55C155.4,250.18 160.58,251.26 162.3,251.6"/>
<path d="M79.5,251.6C81.22,251.38 86.4,250.7 89.85,250.29C93.3,249.89 96.75,249.49 100.2,249.18C103.65,248.87 107.1,248.6 110.55,248.44C114,248.27 117.45,248.18 120.9,248.18C124.35,248.18 127.8,248.27 131.25,248.44C134.7,248.6 138.15,248.87 141.6,249.18C145.05,249.49 148.5,249.89 151.95,250.29C155.4,250.7 160.58,251.38 162.3,251.6"/>
<path d="M79.5,251.6C81.22,251.98 86.4,253.14 89.85,253.89C93.3,254.65 96.75,255.4 100.2,256.12C103.65,256.85 107.1,257.57 110.55,258.25C114,258.94 117.45,259.61 120.9,260.25C124.35,260.88 127.8,261.5 131.25,262.09C134.7,262.68 138.15,263.25 141.6,263.8C145.05,264.35 148.5,264.88 151.95,265.4C155.4,265.93 160.58,266.69 162.3,266.95"/>
<path d="M79.5,251.6C81.22,252.06 86.4,253.45 89.85,254.35C93.3,255.24 96.75,256.13 100.2,256.97C103.65,257.8 107.1,258.61 110.55,259.35C114,260.1 117.45,260.8 120.9,261.44C124.35,262.08 127.8,262.66 131.25,263.19C134.7,263.72 138.15,264.2 141.6,264.64C145.05,265.09 148.5,265.47 151.95,265.86C155.4,266.24 160.58,266.77 162.3,266.95"/>
<path d="M79.5,266.95C81.22,266.69 86.4,265.93 89.85,265.4C93.3,264.88 96.75,264.35 100.2,263.8C103.65,263.25 107.1,262.68 110.55,262.09C114,261.5 117.45,260.88 120.9,260.25C124.35,259.61 127.8,258.94 131.25,258.25C134.7,257.57 138.15,256.85 141.6,256.12C145.05,255.4 148.5,254.65 151.95,253.89C155.4,253.14 160.58,251.98 162.3,251.6"/>
<path d="M79.5,266.95C81.22,266.77 86.4,266.24 89.85,265.86C93.3,265.47 96.75,265.09 100.2,264.64C103.65,264.2 107.1,263.72 110.55,263.19C114,262.66 117.45,262.08 120.9,261.44C124.35,260.8 127.8,260.1 131.25,259.35C134.7,258.61 138.15,257.8 141.6,256.97C145.05,256.13 148.5,255.24 151.95,254.35C155.4,253.45 160.58,252.06 162.3,251.6"/>
<path d="M79.5,266.95C81.22,266.71 86.4,265.96 89.85,265.52C93.3,265.09 96.75,264.65 100.2,264.32C103.65,263.98 107.1,263.69 110.55,263.51C114,263.33 117.45,263.23 120.9,263.23C124.35,263.23 127.8,263.33 131.25,263.51C134.7,263.69 138.15,263.98 141.6,264.32C145.05,264.65 148.5,265.09 151.95,265.52C155.4,265.96 160.58,266.71 162.3,266.95"/>
<path d="M79.5,266.95C81.22,266.97 86.4,267.03 89.85,267.06C93.3,267.1 96.75,267.13 100.2,267.16C103.65,267.19 107.1,267.21 110.55,267.23C114,267.24 117.45,267.25 120.9,267.25C124.35,267.25 127.8,267.24 131.25,267.23C134.7,267.21 138.15,267.19 141.6,267.16C145.05,267.13 148.5,267.1 151.95,267.06C155.4,267.03 160.58,266.97 162.3,266.95"/>
<path d="M79.5,251.6C81.22,252.47 86.4,255.07 89.85,256.8C93.3,258.53 96.75,260.26 100.2,261.98C103.65,263.69 107.1,265.4 110.55,267.1C114,268.8 117.45,270.49 120.9,272.16C124.35,273.84 127.8,275.51 131.25,277.16C134.7,278.81 138.15,280.46 141.6,282.09C145.05,283.73 148.5,285.35 151.95,286.98C155.4,288.6 160.58,291.02 162.3,291.83"/>
<path d="M79.5,291.83C81.22,291.02 86.4,288.6 89.85,286.98C93.3,285.35 96.75,283.73 100.2,282.09C103.65,280.46 107.1,278.81 110.55,277.16C114,275.51 117.45,273.84 120.9,272.16C124.35,270.49 127.8,268.8 131.25,267.1C134.7,265.4 138.15,263.69 141.6,261.98C145.05,260.26 148.5,258.53 151.95,256.8C155.4,255.07 160.58,252.47 162.3,251.6"/>
<path d="M79.5,291.83C81.22,291.7 86.4,291.28 89.85,291.03C93.3,290.79 96.75,290.55 100.2,290.36C103.65,290.17 107.1,290.01 110.55,289.91C114,289.8 117.45,289.75 120.9,289.75C124.35,289.75 127.8,289.8 131.25,289.91C134.7,290.01 138.15,290.17 141.6,290.36C145.05,290.55 148.5,290.79 151.95,291.03C155.4,291.28 160.58,291.7 162.3,291.83"/>
<path d="M79.5,291.83C81.22,291.93 86.4,292.23 89.85,292.4C93.3,292.58 96.75,292.75 100.2,292.89C103.65,293.02 107.1,293.14 110.55,293.21C114,293.28 117.45,293.32 120.9,293.32C124.35,293.32 127.8,293.28 131.25,293.21C134.7,293.14 138.15,293.02 141.6,292.89C145.05,292.75 148.5,292.58 151.95,292.4C155.4,292.23 160.58,291.93 162.3,291.83"/>
<path d="M79.5,291.83C81.22,292.38 86.4,293.92 89.85,295.09C93.3,296.25 96.75,297.42 100.2,298.81C103.65,300.19 107.1,301.68 110.55,303.4C114,305.12 117.45,307.01 120.9,309.12C124.35,311.23 127.8,313.56 131.25,316.06C134.7,318.57 138.15,321.3 141.6,324.14C145.05,326.98 148.5,330.02 151.95,333.08C155.4,336.14 160.58,340.92 162.3,342.49"/>
<path d="M79.5,342.19C81.22,340.64 86.4,335.91 89.85,332.88C93.3,329.85 96.75,326.83 100.2,324.02C103.65,321.21 107.1,318.5 110.55,316.01C114,313.53 117.45,311.22 120.9,309.12C124.35,307.02 127.8,305.14 131.25,303.42C134.7,301.71 138.15,300.23 141.6,298.84C145.05,297.45 148.5,296.27 151.95,295.11C155.4,293.94 160.58,292.38 162.3,291.83"/>
<path d="M79.5,318.5C81.22,318.26 86.4,317.48 89.85,317.02C93.3,316.56 96.75,316.11 100.2,315.76C103.65,315.42 107.1,315.11 110.55,314.92C114,314.74 117.45,314.63 120.9,314.63C124.35,314.63 127.8,314.74 131.25,314.92C134.7,315.11 138.15,315.42 141.6,315.76C145.05,316.11 148.5,316.56 151.95,317.02C155.4,317.48 160.58,318.26 162.3,318.5"/>
<path d="M79.5,318.5C81.22,318.75 86.4,319.4 89.85,319.96C93.3,320.52 96.75,321.1 100.2,321.88C103.65,322.65 107.1,323.53 110.55,324.63C114,325.73 117.45,327 120.9,328.49C124.35,329.97 127.8,331.67 131.25,333.53C134.7,335.4 138.15,337.49 141.6,339.68C145.05,341.87 148.5,344.26 151.95,346.67C155.4,349.08 160.58,352.87 162.3,354.12"/>
<path d="M79.5,354.12C81.22,352.87 86.4,349.08 89.85,346.67C93.3,344.26 96.75,341.87 100.2,339.68C103.65,337.49 107.1,335.4 110.55,333.53C114,331.67 117.45,329.97 120.9,328.49C124.35,327 127.8,325.73 131.25,324.63C134.7,323.53 138.15,322.65 141.6,321.88C145.05,321.1 148.5,320.52 151.95,319.96C155.4,319.4 160.58,318.75 162.3,318.5"/>
<path d="M79.5,318.5C81.22,319 86.4,320.47 89.85,321.5C93.3,322.54 96.75,323.58 100.2,324.72C103.65,325.86 107.1,327.05 110.55,328.35C114,329.65 117.45,331.03 120.9,332.51C124.35,333.99 127.8,335.58 131.25,337.25C134.7,338.92 138.15,340.7 141.6,342.53C145.05,344.35 148.5,346.28 151.95,348.21C155.4,350.14 160.58,353.13 162.3,354.12"/>
<path d="M79.5,354.12C81.22,353.13 86.4,350.14 89.85,348.21C93.3,346.28 96.75,344.35 100.2,342.53C103.65,340.7 107.1,338.92 110.55,337.25C114,335.58 117.45,333.99 120.9,332.51C124.35,331.03 127.8,329.65 131.25,328.35C134.7,327.05 138.15,325.86 141.6,324.72C145.05,323.58 148.5,322.54 151.95,321.5C155.4,320.47 160.58,319 162.3,318.5"/>
<path d="M79.5,342.19C81.22,343.2 86.4,346.36 89.85,348.22C93.3,350.08 96.75,351.91 100.2,353.33C103.65,354.76 107.1,355.98 110.55,356.76C114,357.54 117.45,357.98 120.9,357.99C124.35,358 127.8,357.59 131.25,356.84C134.7,356.08 138.15,354.88 141.6,353.48C145.05,352.08 148.5,350.27 151.95,348.44C155.4,346.61 160.58,343.48 162.3,342.49"/>
<path d="M79.5,354.12C81.22,355.06 86.4,358.02 89.85,359.76C93.3,361.5 96.75,363.22 100.2,364.55C103.65,365.88 107.1,367.02 110.55,367.74C114,368.46 117.45,368.87 120.9,368.87C124.35,368.87 127.8,368.46 131.25,367.74C134.7,367.02 138.15,365.88 141.6,364.55C145.05,363.22 148.5,361.5 151.95,359.76C155.4,358.02 160.58,355.06 162.3,354.12"/>
<path d="M79.5,354.12C81.22,355.46 86.4,359.72 89.85,362.21C93.3,364.71 96.75,367.17 100.2,369.08C103.65,370.98 107.1,372.63 110.55,373.66C114,374.7 117.45,375.27 120.9,375.27C124.35,375.27 127.8,374.7 131.25,373.66C134.7,372.63 138.15,370.98 141.6,369.08C145.05,367.17 148.5,364.71 151.95,362.21C155.4,359.72 160.58,355.46 162.3,354.12"/>
<path d="M162.3,251.6C165.67,250.93 176.05,248.52 182.54,247.58C189.03,246.64 194.52,245.94 201.26,245.94C208.01,245.94 216.02,246.76 223.02,247.58C230.02,248.4 236.51,249.81 243.26,250.86C250.01,251.9 260.13,253.34 263.5,253.84"/>
<path d="M162.3,251.6C165.67,251.02 176.05,248.91 182.54,248.11C189.03,247.3 194.52,246.72 201.26,246.78C208.01,246.83 216.02,247.66 223.02,248.43C230.02,249.2 236.51,250.48 243.26,251.38C250.01,252.28 260.13,253.43 263.5,253.84"/>
<path d="M162.3,251.6C166.52,251.35 179.17,250.09 187.6,250.11C196.03,250.14 204.47,251.06 212.9,251.75C221.33,252.45 229.77,253.39 238.2,254.28C246.63,255.18 259.28,256.64 263.5,257.12"/>
<path d="M162.3,251.6C166.52,252.47 179.5,255.4 187.6,256.82C195.7,258.23 202.44,259.77 210.88,260.1C219.31,260.42 229.43,259.25 238.2,258.75C246.97,258.26 259.28,257.39 263.5,257.12"/>
<path d="M162.3,251.6C166.52,252.58 179.5,255.89 187.6,257.45C195.7,259.01 202.44,260.67 210.88,260.99C219.31,261.31 229.43,260.03 238.2,259.39C246.97,258.74 259.28,257.49 263.5,257.12"/>
<path d="M162.3,251.6C166.52,252.47 179.5,255.4 187.6,256.82C195.7,258.23 201.38,259.48 210.88,260.1C220.37,260.72 235.8,259.08 244.58,260.54C253.35,262.01 260.35,267.5 263.5,268.89"/>
<path d="M162.3,251.6C166.8,253.76 180.95,260.15 189.32,264.57C197.69,268.99 206.1,273.88 212.5,278.12C218.89,282.37 222.21,285.82 227.68,290.05C233.14,294.27 239.31,298.94 245.28,303.45C251.25,307.97 260.46,314.88 263.5,317.16"/>
<path d="M162.3,266.95C166.8,266.55 181.22,265.68 189.32,264.57C197.42,263.45 202.73,261.64 210.88,260.25C219.02,258.85 229.43,257.29 238.2,256.22C246.97,255.15 259.28,254.24 263.5,253.84"/>
<path d="M162.3,266.95C166.8,266.7 181.22,266.33 189.32,265.46C197.42,264.59 202.73,262.85 210.88,261.74C219.02,260.62 229.43,259.52 238.2,258.75C246.97,257.99 259.28,257.39 263.5,257.12"/>
<path d="M162.3,291.83C166.4,290.84 178.53,288.16 186.89,285.87C195.26,283.59 203.94,280.53 212.5,278.12C221.05,275.72 229.7,272.96 238.2,271.42C246.7,269.88 259.28,269.31 263.5,268.89"/>
<path d="M162.3,342.49C164.27,340.9 169.25,336.96 174.14,332.96C179.03,328.96 185.53,323.42 191.65,318.5C197.77,313.59 204.87,308.25 210.88,303.45C216.88,298.66 222.06,293.7 227.68,289.75C233.29,285.8 238.6,283.24 244.58,279.76C250.55,276.29 260.35,270.7 263.5,268.89"/>
<path d="M162.3,291.83C166.4,292.6 178.8,294.51 186.89,296.45C194.99,298.39 202.83,301.1 210.88,303.45C218.92,305.81 228.08,308.55 235.16,310.61C242.25,312.67 248.66,314.73 253.38,315.82C258.1,316.91 261.81,316.94 263.5,317.16"/>
<path d="M162.3,318.5C164.49,318.33 170.56,317.19 175.46,317.46C180.35,317.73 185.74,318.23 191.65,320.14C197.55,322.06 204.47,326.4 210.88,328.93C217.29,331.47 223.69,333.35 230.1,335.34C236.51,337.33 243.77,338.87 249.33,340.85C254.9,342.84 261.14,346.19 263.5,347.26"/>
<path d="M162.3,318.5C165.84,319.8 175.46,323.59 183.55,326.25C191.65,328.91 203.12,332.93 210.88,334.45C218.63,335.96 223.86,335.34 230.1,335.34C236.34,335.34 242.75,334.75 248.32,334.45C253.89,334.15 260.97,333.7 263.5,333.55"/>
<path d="M162.3,318.5C164.83,319.6 172.03,322.53 177.48,325.06C182.93,327.59 189.08,331.91 194.99,333.7C200.89,335.49 207.89,334.97 212.9,335.79C217.91,336.61 219.48,337.13 225.04,338.62C230.61,340.11 239.89,343.29 246.3,344.73C252.71,346.17 260.63,346.84 263.5,347.26"/>
<path d="M162.3,354.12C165.67,355.73 175.79,361.39 182.54,363.8C189.29,366.21 196.88,368.32 202.78,368.57C208.68,368.82 212.73,367.35 217.96,365.29C223.19,363.23 229.43,359.63 234.15,356.2C238.87,352.77 243.09,347.39 246.3,344.73C249.5,342.07 250.51,342.12 253.38,340.26C256.25,338.4 261.81,334.67 263.5,333.55"/>
<path d="M162.3,354.12C165.67,355.83 175.79,361.84 182.54,364.4C189.29,366.95 196.88,369.06 202.78,369.46C208.68,369.86 212.14,368.34 217.96,366.78C223.78,365.22 231.86,362.71 237.69,360.07C243.53,357.44 248.67,353.12 252.98,350.99C257.28,348.85 261.75,347.88 263.5,347.26"/>
<path d="M162.3,342.49C164.49,343.44 171.07,346.91 175.46,348.15C179.84,349.4 183.21,350.37 188.61,349.94C194.01,349.52 201.77,347.51 207.84,345.62C213.91,343.73 220.49,340.48 225.04,338.62C229.6,336.76 231.2,336.51 235.16,334.45C239.13,332.39 244.1,329.13 248.83,326.25C253.55,323.37 261.05,318.68 263.5,317.16"/>
<path d="M162.3,354.12C163.99,353 167.75,349.72 172.42,347.41C177.09,345.1 184.43,342.32 190.33,340.26C196.24,338.2 202.39,337.08 207.84,335.04C213.29,333.01 218.5,329.8 223.02,328.04C227.54,326.28 230.66,324.76 234.96,324.46C239.26,324.17 244.07,324.74 248.83,326.25C253.58,327.77 261.05,332.34 263.5,333.55"/>
<path d="M162.3,354.12C166.35,352.25 178.39,345.97 186.59,342.94C194.79,339.91 203.72,337.38 211.48,335.94C219.24,334.5 224.47,334.7 233.14,334.3C241.81,333.9 258.44,333.68 263.5,333.55"/>
<path d="M263.5,253.84C266.92,252.92 277.17,249.99 284,248.33C290.83,246.66 297.67,245.07 304.5,243.86C311.33,242.64 318.17,241.69 325,241.02C331.83,240.35 342.08,240.03 345.5,239.83"/>
<path d="M263.5,257.12C266.92,255.97 277.17,252.27 284,250.26C290.83,248.25 297.67,246.51 304.5,245.05C311.33,243.58 318.17,242.34 325,241.47C331.83,240.6 342.08,240.11 345.5,239.83"/>
<path d="M263.5,268.89C265.52,267.6 271.54,263.7 275.64,261.14C279.74,258.58 283.51,255.95 288.1,253.54C292.69,251.13 297.04,248.62 303.19,246.69C309.34,244.75 317.95,243.06 325,241.92C332.05,240.78 342.08,240.18 345.5,239.83"/>
<path d="M263.5,253.84C266.92,254.66 277.39,257.26 284,258.75C290.61,260.25 295.67,261.29 303.19,262.78C310.7,264.27 322.05,266.7 329.1,267.69C336.15,268.69 342.77,268.56 345.5,268.74"/>
<path d="M263.5,257.12C266.92,257.76 277.39,259.8 284,260.99C290.61,262.18 295.67,263.08 303.19,264.27C310.7,265.46 322.05,267.4 329.1,268.14C336.15,268.89 342.77,268.64 345.5,268.74"/>
<path d="M263.5,257.12C266.92,257.87 277.39,260.28 284,261.62C290.61,262.96 295.67,263.99 303.19,265.16C310.7,266.34 322.05,268.07 329.1,268.67C336.15,269.26 342.77,268.73 345.5,268.74"/>
<path d="M263.5,268.89C266.92,269.06 277.39,269.38 284,269.93C290.61,270.48 295.67,270.53 303.19,272.16C310.7,273.8 322.05,277.23 329.1,279.76C336.15,282.3 342.77,286.1 345.5,287.36"/>
<path d="M263.5,268.89C266.67,271.05 275.91,278.42 282.52,281.85C289.14,285.28 298.16,288.06 303.19,289.45C308.22,290.84 308.38,290.22 312.7,290.19C317.02,290.17 323.63,289.77 329.1,289.3C334.57,288.83 342.77,287.69 345.5,287.36"/>
<path d="M263.5,317.16C266.67,314.78 275.91,306.96 282.52,302.86C289.14,298.76 298.16,294.64 303.19,292.58C308.22,290.52 308.38,291.11 312.7,290.49C317.02,289.87 323.63,289.37 329.1,288.85C334.57,288.33 342.77,287.61 345.5,287.36"/>
<path d="M263.5,317.16C267.82,316.62 281.65,315.57 289.41,313.88C297.17,312.2 303.46,309.79 310.08,307.03C316.69,304.27 323.2,300.62 329.1,297.35C335,294.07 342.77,289.03 345.5,287.36"/>
<path d="M263.5,317.16C265.29,318.68 270.51,322.97 274.24,326.25C277.97,329.53 282.89,333.83 285.89,336.83C288.88,339.84 282.26,332.34 292.2,344.28C302.14,356.23 336.62,397.8 345.5,408.5"/>
<path d="M263.5,333.55C265.29,332.34 269.92,328.83 274.24,326.25C278.56,323.67 284.59,319.99 289.41,318.06C294.24,316.12 297.45,314.51 303.19,314.63C308.93,314.75 316.8,317.68 323.85,318.8C330.9,319.92 341.89,320.91 345.5,321.34"/>
<path d="M263.5,333.55C268.97,332.91 286.24,331.34 296.3,329.68C306.36,328.02 315.65,324.96 323.85,323.57C332.05,322.18 341.89,321.71 345.5,321.34"/>
<path d="M263.5,333.55C265.21,334.87 260.08,328.96 273.75,341.45C287.42,353.94 333.54,397.32 345.5,408.5"/>
<path d="M263.5,347.26C265.29,346.29 268.78,343.91 274.24,341.45C279.71,338.99 288.03,335.39 296.3,332.51C304.57,329.63 315.65,326.03 323.85,324.17C332.05,322.3 341.89,321.81 345.5,321.34"/>
<path d="M263.5,347.26C265.29,346.34 268.78,344.09 274.24,341.75C279.71,339.41 288.03,336.06 296.3,333.22C304.57,330.38 315.65,326.7 323.85,324.72C332.05,322.73 341.89,321.9 345.5,321.34"/>
<path d="M263.5,347.26C277.17,357.47 331.83,398.29 345.5,408.5"/>
</g>
<rect x="156.5" y="425.2" width="36.8" height="7.6" fill="#fafafa" stroke="#d0d0d0" stroke-width="0.5"/>
<rect x="158.3" y="426.7" width="4.6" height="4.6" fill="#dfe4ff" stroke="#3a4ae0" stroke-width="0.5"/>
<path d="M159.1,429.1 l1.2,1.3 l2,-2.8" fill="none" stroke="#3a4ae0" stroke-width="0.7"/>
<text x="164.6" y="430.5" font-size="4.2" fill="#222" text-anchor="start" textLength="27" lengthAdjust="spacingAndGlyphs" >Phonon dispersion</text>
</g>
<g>
<text x="540.6" y="234.3" font-size="8.3" fill="#262634" text-anchor="middle" textLength="134.5" lengthAdjust="spacingAndGlyphs"  stroke="#262634" stroke-width="0.18">Absorption coefficient for pigment_red</text>
<text x="541.1" y="244" font-size="5.9" fill="#3c3c4c" text-anchor="middle" textLength="128.5" lengthAdjust="spacingAndGlyphs" >Incident direction: (1 0 0 ) Reflected direction: (1 0 0 )</text>
<text x="541" y="252.8" font-size="5.9" fill="#3c3c4c" text-anchor="middle" textLength="91.5" lengthAdjust="spacingAndGlyphs" >Oscillator damping constant: 5  (1/cm)</text>
<rect x="383.25" y="258.25" width="333.5" height="149.75" fill="#fff" stroke="#ececec" stroke-width="0.6"/>
<line x1="383.25" y1="393.94" x2="716.75" y2="393.94" stroke="#ececec" stroke-width="0.6"/>
<text x="379.6" y="395.29" font-size="4.2" fill="#505050" text-anchor="end" textLength="5.95" lengthAdjust="spacingAndGlyphs" >200</text>
<line x1="381.75" y1="393.94" x2="383.25" y2="393.94" stroke="#bbb" stroke-width="0.5"/>
<line x1="383.25" y1="379.88" x2="716.75" y2="379.88" stroke="#ececec" stroke-width="0.6"/>
<text x="379.6" y="381.23" font-size="4.2" fill="#505050" text-anchor="end" textLength="5.95" lengthAdjust="spacingAndGlyphs" >400</text>
<line x1="381.75" y1="379.88" x2="383.25" y2="379.88" stroke="#bbb" stroke-width="0.5"/>
<line x1="383.25" y1="365.82" x2="716.75" y2="365.82" stroke="#ececec" stroke-width="0.6"/>
<text x="379.6" y="367.17" font-size="4.2" fill="#505050" text-anchor="end" textLength="5.95" lengthAdjust="spacingAndGlyphs" >600</text>
<line x1="381.75" y1="365.82" x2="383.25" y2="365.82" stroke="#bbb" stroke-width="0.5"/>
<line x1="383.25" y1="351.76" x2="716.75" y2="351.76" stroke="#ececec" stroke-width="0.6"/>
<text x="379.6" y="353.11" font-size="4.2" fill="#505050" text-anchor="end" textLength="5.95" lengthAdjust="spacingAndGlyphs" >800</text>
<line x1="381.75" y1="351.76" x2="383.25" y2="351.76" stroke="#bbb" stroke-width="0.5"/>
<line x1="383.25" y1="337.7" x2="716.75" y2="337.7" stroke="#ececec" stroke-width="0.6"/>
<text x="379.6" y="339.05" font-size="4.2" fill="#505050" text-anchor="end" textLength="7.9" lengthAdjust="spacingAndGlyphs" >1000</text>
<line x1="381.75" y1="337.7" x2="383.25" y2="337.7" stroke="#bbb" stroke-width="0.5"/>
<line x1="383.25" y1="323.64" x2="716.75" y2="323.64" stroke="#ececec" stroke-width="0.6"/>
<text x="379.6" y="324.99" font-size="4.2" fill="#505050" text-anchor="end" textLength="7.9" lengthAdjust="spacingAndGlyphs" >1200</text>
<line x1="381.75" y1="323.64" x2="383.25" y2="323.64" stroke="#bbb" stroke-width="0.5"/>
<line x1="383.25" y1="309.58" x2="716.75" y2="309.58" stroke="#ececec" stroke-width="0.6"/>
<text x="379.6" y="310.93" font-size="4.2" fill="#505050" text-anchor="end" textLength="7.9" lengthAdjust="spacingAndGlyphs" >1400</text>
<line x1="381.75" y1="309.58" x2="383.25" y2="309.58" stroke="#bbb" stroke-width="0.5"/>
<line x1="383.25" y1="295.52" x2="716.75" y2="295.52" stroke="#ececec" stroke-width="0.6"/>
<text x="379.6" y="296.87" font-size="4.2" fill="#505050" text-anchor="end" textLength="7.9" lengthAdjust="spacingAndGlyphs" >1600</text>
<line x1="381.75" y1="295.52" x2="383.25" y2="295.52" stroke="#bbb" stroke-width="0.5"/>
<line x1="383.25" y1="281.46" x2="716.75" y2="281.46" stroke="#ececec" stroke-width="0.6"/>
<text x="379.6" y="282.81" font-size="4.2" fill="#505050" text-anchor="end" textLength="7.9" lengthAdjust="spacingAndGlyphs" >1800</text>
<line x1="381.75" y1="281.46" x2="383.25" y2="281.46" stroke="#bbb" stroke-width="0.5"/>
<line x1="383.25" y1="267.4" x2="716.75" y2="267.4" stroke="#ececec" stroke-width="0.6"/>
<text x="379.6" y="268.75" font-size="4.2" fill="#505050" text-anchor="end" textLength="7.9" lengthAdjust="spacingAndGlyphs" >2000</text>
<line x1="381.75" y1="267.4" x2="383.25" y2="267.4" stroke="#bbb" stroke-width="0.5"/>
<line x1="383.25" y1="258.25" x2="383.25" y2="408" stroke="#d0d0d0" stroke-width="0.7"/>
<line x1="383.25" y1="408" x2="716.75" y2="408" stroke="#d0d0d0" stroke-width="0.7"/>
<text x="393.35" y="414.9" font-size="4.2" fill="#505050" text-anchor="middle" textLength="5.95" lengthAdjust="spacingAndGlyphs" >200</text>
<line x1="392.75" y1="408" x2="392.75" y2="409.5" stroke="#bbb" stroke-width="0.5"/>
<text x="412.9" y="414.9" font-size="4.2" fill="#505050" text-anchor="middle" textLength="5.95" lengthAdjust="spacingAndGlyphs" >400</text>
<line x1="412.3" y1="408" x2="412.3" y2="409.5" stroke="#bbb" stroke-width="0.5"/>
<text x="432.45" y="414.9" font-size="4.2" fill="#505050" text-anchor="middle" textLength="5.95" lengthAdjust="spacingAndGlyphs" >600</text>
<line x1="431.85" y1="408" x2="431.85" y2="409.5" stroke="#bbb" stroke-width="0.5"/>
<text x="452" y="414.9" font-size="4.2" fill="#505050" text-anchor="middle" textLength="5.95" lengthAdjust="spacingAndGlyphs" >800</text>
<line x1="451.4" y1="408" x2="451.4" y2="409.5" stroke="#bbb" stroke-width="0.5"/>
<text x="471.55" y="414.9" font-size="4.2" fill="#505050" text-anchor="middle" textLength="7.9" lengthAdjust="spacingAndGlyphs" >1000</text>
<line x1="470.95" y1="408" x2="470.95" y2="409.5" stroke="#bbb" stroke-width="0.5"/>
<text x="491.1" y="414.9" font-size="4.2" fill="#505050" text-anchor="middle" textLength="7.9" lengthAdjust="spacingAndGlyphs" >1200</text>
<line x1="490.5" y1="408" x2="490.5" y2="409.5" stroke="#bbb" stroke-width="0.5"/>
<text x="510.65" y="414.9" font-size="4.2" fill="#505050" text-anchor="middle" textLength="7.9" lengthAdjust="spacingAndGlyphs" >1400</text>
<line x1="510.05" y1="408" x2="510.05" y2="409.5" stroke="#bbb" stroke-width="0.5"/>
<text x="530.2" y="414.9" font-size="4.2" fill="#505050" text-anchor="middle" textLength="7.9" lengthAdjust="spacingAndGlyphs" >1600</text>
<line x1="529.6" y1="408" x2="529.6" y2="409.5" stroke="#bbb" stroke-width="0.5"/>
<text x="549.75" y="414.9" font-size="4.2" fill="#505050" text-anchor="middle" textLength="7.9" lengthAdjust="spacingAndGlyphs" >1800</text>
<line x1="549.15" y1="408" x2="549.15" y2="409.5" stroke="#bbb" stroke-width="0.5"/>
<text x="569.3" y="414.9" font-size="4.2" fill="#505050" text-anchor="middle" textLength="7.9" lengthAdjust="spacingAndGlyphs" >2000</text>
<line x1="568.7" y1="408" x2="568.7" y2="409.5" stroke="#bbb" stroke-width="0.5"/>
<text x="588.85" y="414.9" font-size="4.2" fill="#505050" text-anchor="middle" textLength="7.9" lengthAdjust="spacingAndGlyphs" >2200</text>
<line x1="588.25" y1="408" x2="588.25" y2="409.5" stroke="#bbb" stroke-width="0.5"/>
<text x="608.4" y="414.9" font-size="4.2" fill="#505050" text-anchor="middle" textLength="7.9" lengthAdjust="spacingAndGlyphs" >2400</text>
<line x1="607.8" y1="408" x2="607.8" y2="409.5" stroke="#bbb" stroke-width="0.5"/>
<text x="627.95" y="414.9" font-size="4.2" fill="#505050" text-anchor="middle" textLength="7.9" lengthAdjust="spacingAndGlyphs" >2600</text>
<line x1="627.35" y1="408" x2="627.35" y2="409.5" stroke="#bbb" stroke-width="0.5"/>
<text x="647.5" y="414.9" font-size="4.2" fill="#505050" text-anchor="middle" textLength="7.9" lengthAdjust="spacingAndGlyphs" >2800</text>
<line x1="646.9" y1="408" x2="646.9" y2="409.5" stroke="#bbb" stroke-width="0.5"/>
<text x="667.05" y="414.9" font-size="4.2" fill="#505050" text-anchor="middle" textLength="7.9" lengthAdjust="spacingAndGlyphs" >3000</text>
<line x1="666.45" y1="408" x2="666.45" y2="409.5" stroke="#bbb" stroke-width="0.5"/>
<text x="686.6" y="414.9" font-size="4.2" fill="#505050" text-anchor="middle" textLength="7.9" lengthAdjust="spacingAndGlyphs" >3200</text>
<line x1="686" y1="408" x2="686" y2="409.5" stroke="#bbb" stroke-width="0.5"/>
<text x="706.15" y="414.9" font-size="4.2" fill="#505050" text-anchor="middle" textLength="7.9" lengthAdjust="spacingAndGlyphs" >3400</text>
<line x1="705.55" y1="408" x2="705.55" y2="409.5" stroke="#bbb" stroke-width="0.5"/>
<line x1="384.93" y1="408" x2="384.93" y2="408.9" stroke="#c8c8c8" stroke-width="0.5"/>
<line x1="388.84" y1="408" x2="388.84" y2="408.9" stroke="#c8c8c8" stroke-width="0.5"/>
<line x1="392.75" y1="408" x2="392.75" y2="408.9" stroke="#c8c8c8" stroke-width="0.5"/>
<line x1="396.66" y1="408" x2="396.66" y2="408.9" stroke="#c8c8c8" stroke-width="0.5"/>
<line x1="400.57" y1="408" x2="400.57" y2="408.9" stroke="#c8c8c8" stroke-width="0.5"/>
<line x1="404.48" y1="408" x2="404.48" y2="408.9" stroke="#c8c8c8" stroke-width="0.5"/>
<line x1="408.39" y1="408" x2="408.39" y2="408.9" stroke="#c8c8c8" stroke-width="0.5"/>
<line x1="412.3" y1="408" x2="412.3" y2="408.9" stroke="#c8c8c8" stroke-width="0.5"/>
<line x1="416.21" y1="408" x2="416.21" y2="408.9" stroke="#c8c8c8" stroke-width="0.5"/>
<line x1="420.12" y1="408" x2="420.12" y2="408.9" stroke="#c8c8c8" stroke-width="0.5"/>
<line x1="424.03" y1="408" x2="424.03" y2="408.9" stroke="#c8c8c8" stroke-width="0.5"/>
<line x1="427.94" y1="408" x2="427.94" y2="408.9" stroke="#c8c8c8" stroke-width="0.5"/>
<line x1="431.85" y1="408" x2="431.85" y2="408.9" stroke="#c8c8c8" stroke-width="0.5"/>
<line x1="435.76" y1="408" x2="435.76" y2="408.9" stroke="#c8c8c8" stroke-width="0.5"/>
<line x1="439.67" y1="408" x2="439.67" y2="408.9" stroke="#c8c8c8" stroke-width="0.5"/>
<line x1="443.58" y1="408" x2="443.58" y2="408.9" stroke="#c8c8c8" stroke-width="0.5"/>
<line x1="447.49" y1="408" x2="447.49" y2="408.9" stroke="#c8c8c8" stroke-width="0.5"/>
<line x1="451.4" y1="408" x2="451.4" y2="408.9" stroke="#c8c8c8" stroke-width="0.5"/>
<line x1="455.31" y1="408" x2="455.31" y2="408.9" stroke="#c8c8c8" stroke-width="0.5"/>
<line x1="459.22" y1="408" x2="459.22" y2="408.9" stroke="#c8c8c8" stroke-width="0.5"/>
<line x1="463.13" y1="408" x2="463.13" y2="408.9" stroke="#c8c8c8" stroke-width="0.5"/>
<line x1="467.04" y1="408" x2="467.04" y2="408.9" stroke="#c8c8c8" stroke-width="0.5"/>
<line x1="470.95" y1="408" x2="470.95" y2="408.9" stroke="#c8c8c8" stroke-width="0.5"/>
<line x1="474.86" y1="408" x2="474.86" y2="408.9" stroke="#c8c8c8" stroke-width="0.5"/>
<line x1="478.77" y1="408" x2="478.77" y2="408.9" stroke="#c8c8c8" stroke-width="0.5"/>
<line x1="482.68" y1="408" x2="482.68" y2="408.9" stroke="#c8c8c8" stroke-width="0.5"/>
<line x1="486.59" y1="408" x2="486.59" y2="408.9" stroke="#c8c8c8" stroke-width="0.5"/>
<line x1="490.5" y1="408" x2="490.5" y2="408.9" stroke="#c8c8c8" stroke-width="0.5"/>
<line x1="494.41" y1="408" x2="494.41" y2="408.9" stroke="#c8c8c8" stroke-width="0.5"/>
<line x1="498.32" y1="408" x2="498.32" y2="408.9" stroke="#c8c8c8" stroke-width="0.5"/>
<line x1="502.23" y1="408" x2="502.23" y2="408.9" stroke="#c8c8c8" stroke-width="0.5"/>
<line x1="506.14" y1="408" x2="506.14" y2="408.9" stroke="#c8c8c8" stroke-width="0.5"/>
<line x1="510.05" y1="408" x2="510.05" y2="408.9" stroke="#c8c8c8" stroke-width="0.5"/>
<line x1="513.96" y1="408" x2="513.96" y2="408.9" stroke="#c8c8c8" stroke-width="0.5"/>
<line x1="517.87" y1="408" x2="517.87" y2="408.9" stroke="#c8c8c8" stroke-width="0.5"/>
<line x1="521.78" y1="408" x2="521.78" y2="408.9" stroke="#c8c8c8" stroke-width="0.5"/>
<line x1="525.69" y1="408" x2="525.69" y2="408.9" stroke="#c8c8c8" stroke-width="0.5"/>
<line x1="529.6" y1="408" x2="529.6" y2="408.9" stroke="#c8c8c8" stroke-width="0.5"/>
<line x1="533.51" y1="408" x2="533.51" y2="408.9" stroke="#c8c8c8" stroke-width="0.5"/>
<line x1="537.42" y1="408" x2="537.42" y2="408.9" stroke="#c8c8c8" stroke-width="0.5"/>
<line x1="541.33" y1="408" x2="541.33" y2="408.9" stroke="#c8c8c8" stroke-width="0.5"/>
<line x1="545.24" y1="408" x2="545.24" y2="408.9" stroke="#c8c8c8" stroke-width="0.5"/>
<line x1="549.15" y1="408" x2="549.15" y2="408.9" stroke="#c8c8c8" stroke-width="0.5"/>
<line x1="553.06" y1="408" x2="553.06" y2="408.9" stroke="#c8c8c8" stroke-width="0.5"/>
<line x1="556.97" y1="408" x2="556.97" y2="408.9" stroke="#c8c8c8" stroke-width="0.5"/>
<line x1="560.88" y1="408" x2="560.88" y2="408.9" stroke="#c8c8c8" stroke-width="0.5"/>
<line x1="564.79" y1="408" x2="564.79" y2="408.9" stroke="#c8c8c8" stroke-width="0.5"/>
<line x1="568.7" y1="408" x2="568.7" y2="408.9" stroke="#c8c8c8" stroke-width="0.5"/>
<line x1="572.61" y1="408" x2="572.61" y2="408.9" stroke="#c8c8c8" stroke-width="0.5"/>
<line x1="576.52" y1="408" x2="576.52" y2="408.9" stroke="#c8c8c8" stroke-width="0.5"/>
<line x1="580.43" y1="408" x2="580.43" y2="408.9" stroke="#c8c8c8" stroke-width="0.5"/>
<line x1="584.34" y1="408" x2="584.34" y2="408.9" stroke="#c8c8c8" stroke-width="0.5"/>
<line x1="588.25" y1="408" x2="588.25" y2="408.9" stroke="#c8c8c8" stroke-width="0.5"/>
<line x1="592.16" y1="408" x2="592.16" y2="408.9" stroke="#c8c8c8" stroke-width="0.5"/>
<line x1="596.07" y1="408" x2="596.07" y2="408.9" stroke="#c8c8c8" stroke-width="0.5"/>
<line x1="599.98" y1="408" x2="599.98" y2="408.9" stroke="#c8c8c8" stroke-width="0.5"/>
<line x1="603.89" y1="408" x2="603.89" y2="408.9" stroke="#c8c8c8" stroke-width="0.5"/>
<line x1="607.8" y1="408" x2="607.8" y2="408.9" stroke="#c8c8c8" stroke-width="0.5"/>
<line x1="611.71" y1="408" x2="611.71" y2="408.9" stroke="#c8c8c8" stroke-width="0.5"/>
<line x1="615.62" y1="408" x2="615.62" y2="408.9" stroke="#c8c8c8" stroke-width="0.5"/>
<line x1="619.53" y1="408" x2="619.53" y2="408.9" stroke="#c8c8c8" stroke-width="0.5"/>
<line x1="623.44" y1="408" x2="623.44" y2="408.9" stroke="#c8c8c8" stroke-width="0.5"/>
<line x1="627.35" y1="408" x2="627.35" y2="408.9" stroke="#c8c8c8" stroke-width="0.5"/>
<line x1="631.26" y1="408" x2="631.26" y2="408.9" stroke="#c8c8c8" stroke-width="0.5"/>
<line x1="635.17" y1="408" x2="635.17" y2="408.9" stroke="#c8c8c8" stroke-width="0.5"/>
<line x1="639.08" y1="408" x2="639.08" y2="408.9" stroke="#c8c8c8" stroke-width="0.5"/>
<line x1="642.99" y1="408" x2="642.99" y2="408.9" stroke="#c8c8c8" stroke-width="0.5"/>
<line x1="646.9" y1="408" x2="646.9" y2="408.9" stroke="#c8c8c8" stroke-width="0.5"/>
<line x1="650.81" y1="408" x2="650.81" y2="408.9" stroke="#c8c8c8" stroke-width="0.5"/>
<line x1="654.72" y1="408" x2="654.72" y2="408.9" stroke="#c8c8c8" stroke-width="0.5"/>
<line x1="658.63" y1="408" x2="658.63" y2="408.9" stroke="#c8c8c8" stroke-width="0.5"/>
<line x1="662.54" y1="408" x2="662.54" y2="408.9" stroke="#c8c8c8" stroke-width="0.5"/>
<line x1="666.45" y1="408" x2="666.45" y2="408.9" stroke="#c8c8c8" stroke-width="0.5"/>
<line x1="670.36" y1="408" x2="670.36" y2="408.9" stroke="#c8c8c8" stroke-width="0.5"/>
<line x1="674.27" y1="408" x2="674.27" y2="408.9" stroke="#c8c8c8" stroke-width="0.5"/>
<line x1="678.18" y1="408" x2="678.18" y2="408.9" stroke="#c8c8c8" stroke-width="0.5"/>
<line x1="682.09" y1="408" x2="682.09" y2="408.9" stroke="#c8c8c8" stroke-width="0.5"/>
<line x1="686" y1="408" x2="686" y2="408.9" stroke="#c8c8c8" stroke-width="0.5"/>
<line x1="689.91" y1="408" x2="689.91" y2="408.9" stroke="#c8c8c8" stroke-width="0.5"/>
<line x1="693.82" y1="408" x2="693.82" y2="408.9" stroke="#c8c8c8" stroke-width="0.5"/>
<line x1="697.73" y1="408" x2="697.73" y2="408.9" stroke="#c8c8c8" stroke-width="0.5"/>
<line x1="701.64" y1="408" x2="701.64" y2="408.9" stroke="#c8c8c8" stroke-width="0.5"/>
<line x1="705.55" y1="408" x2="705.55" y2="408.9" stroke="#c8c8c8" stroke-width="0.5"/>
<line x1="709.46" y1="408" x2="709.46" y2="408.9" stroke="#c8c8c8" stroke-width="0.5"/>
<line x1="713.37" y1="408" x2="713.37" y2="408.9" stroke="#c8c8c8" stroke-width="0.5"/>
<text transform="translate(368.9,333) rotate(-90)" font-size="6" fill="#3c3c3c" text-anchor="middle" textLength="25.8" lengthAdjust="spacingAndGlyphs">Absorption</text>
<text x="550.2" y="422.6" font-size="6.2" fill="#3c3c3c" text-anchor="middle" textLength="42" lengthAdjust="spacingAndGlyphs" >Frequency (1/cm)</text>
<defs><clipPath id="cbr"><rect x="383.25" y="257.75" width="333.5" height="149.5"/></clipPath></defs>
<path d="M383.25,407.87 L383.35,407.87 L383.45,407.86 L383.55,407.86 L383.65,407.85 L383.75,407.85 L383.85,407.84 L383.95,407.84 L384.05,407.83 L384.15,407.82 L384.25,407.81 L384.35,407.8 L384.45,407.79 L384.55,407.78 L384.65,407.77 L384.75,407.76 L384.85,407.75 L384.95,407.73 L385.05,407.72 L385.15,407.7 L385.25,407.68 L385.35,407.66 L385.45,407.64 L385.55,407.61 L385.65,407.58 L385.75,407.55 L385.85,407.51 L385.95,407.47 L386.05,407.43 L386.15,407.38 L386.25,407.32 L386.35,407.25 L386.45,407.17 L386.55,407.07 L386.65,406.96 L386.75,406.83 L386.85,406.67 L386.95,406.48 L387.05,406.24 L387.15,405.94 L387.25,405.57 L387.35,405.08 L387.45,404.45 L387.55,403.61 L387.65,402.48 L387.75,400.92 L387.85,398.79 L387.95,395.96 L388.05,392.57 L388.15,389.39 L388.25,387.95 L388.35,389.21 L388.45,392.32 L388.55,395.74 L388.65,398.61 L388.75,400.79 L388.85,402.38 L388.95,403.54 L389.05,404.4 L389.15,405.04 L389.25,405.53 L389.35,405.91 L389.45,406.22 L389.55,406.46 L389.65,406.65 L389.75,406.81 L389.85,406.95 L389.95,407.06 L390.05,407.15 L390.15,407.24 L390.25,407.31 L390.35,407.37 L390.45,407.42 L390.55,407.46 L390.65,407.5 L390.75,407.54 L390.85,407.57 L390.95,407.6 L391.05,407.63 L391.15,407.65 L391.25,407.67 L391.35,407.69 L391.45,407.71 L391.55,407.72 L391.65,407.73 L391.75,407.75 L391.85,407.76 L391.95,407.77 L392.05,407.78 L392.15,407.79 L392.25,407.8 L392.35,407.81 L392.45,407.81 L392.55,407.82 L392.65,407.83 L392.75,407.83 L392.85,407.84 L392.95,407.84 L393.05,407.85 L393.15,407.85 L393.25,407.85 L393.35,407.86 L393.45,407.86 L393.55,407.86 L393.65,407.87 L393.75,407.87 L393.85,407.87 L393.95,407.87 L394.05,407.88 L394.15,407.88 L394.25,407.88 L394.35,407.88 L394.45,407.88 L394.55,407.88 L394.65,407.89 L394.75,407.89 L394.85,407.89 L394.95,407.89 L395.05,407.89 L395.15,407.89 L395.25,407.89 L395.35,407.89 L395.45,407.89 L395.55,407.88 L395.65,407.88 L395.75,407.88 L395.85,407.88 L395.95,407.88 L396.05,407.87 L396.15,407.87 L396.25,407.87 L396.35,407.86 L396.45,407.86 L396.55,407.85 L396.65,407.84 L396.75,407.84 L396.85,407.83 L396.95,407.82 L397.05,407.8 L397.15,407.79 L397.25,407.77 L397.35,407.74 L397.45,407.71 L397.55,407.68 L397.65,407.63 L397.75,407.57 L397.85,407.5 L397.95,407.4 L398.05,407.27 L398.15,407.09 L398.25,406.84 L398.35,406.5 L398.45,406.07 L398.55,405.58 L398.65,405.21 L398.75,405.16 L398.85,405.47 L398.95,405.94 L399.05,406.4 L399.15,406.76 L399.25,407.03 L399.35,407.23 L399.45,407.37 L399.55,407.48 L399.65,407.56 L399.75,407.62 L399.85,407.67 L399.95,407.71 L400.05,407.74 L400.15,407.76 L400.25,407.78 L400.35,407.8 L400.45,407.81 L400.55,407.83 L400.65,407.84 L400.75,407.85 L400.85,407.85 L400.95,407.86 L401.05,407.86 L401.15,407.87 L401.25,407.87 L401.35,407.87 L401.45,407.88 L401.55,407.88 L401.65,407.88 L401.75,407.88 L401.85,407.88 L401.95,407.88 L402.05,407.87 L402.15,407.87 L402.25,407.87 L402.35,407.86 L402.45,407.85 L402.55,407.84 L402.65,407.83 L402.75,407.81 L402.85,407.79 L402.95,407.76 L403.05,407.72 L403.15,407.66 L403.25,407.58 L403.35,407.48 L403.45,407.34 L403.55,407.2 L403.65,407.1 L403.75,407.1 L403.85,407.21 L403.95,407.35 L404.05,407.48 L404.15,407.59 L404.25,407.67 L404.35,407.72 L404.45,407.76 L404.55,407.79 L404.65,407.82 L404.75,407.84 L404.85,407.85 L404.95,407.86 L405.05,407.87 L405.15,407.88 L405.25,407.88 L405.35,407.89 L405.45,407.89 L405.55,407.89 L405.65,407.9 L405.75,407.9 L405.85,407.9 L405.95,407.9 L406.05,407.9 L406.15,407.9 L406.25,407.9 L406.35,407.9 L406.45,407.9 L406.55,407.9 L406.65,407.9 L406.75,407.9 L406.85,407.9 L406.95,407.9 L407.05,407.9 L407.15,407.9 L407.25,407.9 L407.35,407.9 L407.45,407.9 L407.55,407.9 L407.65,407.89 L407.75,407.89 L407.85,407.89 L407.95,407.89 L408.05,407.88 L408.15,407.88 L408.25,407.88 L408.35,407.87 L408.45,407.87 L408.55,407.87 L408.65,407.86 L408.75,407.86 L408.85,407.85 L408.95,407.84 L409.05,407.84 L409.15,407.83 L409.25,407.82 L409.35,407.81 L409.45,407.79 L409.55,407.78 L409.65,407.76 L409.75,407.74 L409.85,407.72 L409.95,407.69 L410.05,407.66 L410.15,407.62 L410.25,407.56 L410.35,407.49 L410.45,407.41 L410.55,407.29 L410.65,407.13 L410.75,406.91 L410.85,406.62 L410.95,406.24 L411.05,405.81 L411.15,405.45 L411.25,405.36 L411.35,405.59 L411.45,405.98 L411.55,406.38 L411.65,406.69 L411.75,406.91 L411.85,407.07 L411.95,407.17 L412.05,407.24 L412.15,407.28 L412.25,407.29 L412.35,407.29 L412.45,407.26 L412.55,407.22 L412.65,407.15 L412.75,407.05 L412.85,406.92 L412.95,406.74 L413.05,406.5 L413.15,406.16 L413.25,405.7 L413.35,405.06 L413.45,404.2 L413.55,403.15 L413.65,402.11 L413.75,401.57 L413.85,401.86 L413.95,402.8 L414.05,403.89 L414.15,404.83 L414.25,405.55 L414.35,406.07 L414.45,406.45 L414.55,406.74 L414.65,406.95 L414.75,407.11 L414.85,407.23 L414.95,407.33 L415.05,407.41 L415.15,407.48 L415.25,407.53 L415.35,407.57 L415.45,407.61 L415.55,407.64 L415.65,407.67 L415.75,407.69 L415.85,407.71 L415.95,407.72 L416.05,407.74 L416.15,407.75 L416.25,407.76 L416.35,407.77 L416.45,407.78 L416.55,407.79 L416.65,407.79 L416.75,407.8 L416.85,407.81 L416.95,407.81 L417.05,407.81 L417.15,407.82 L417.25,407.82 L417.35,407.82 L417.45,407.83 L417.55,407.83 L417.65,407.83 L417.75,407.83 L417.85,407.83 L417.95,407.83 L418.05,407.84 L418.15,407.84 L418.25,407.84 L418.35,407.84 L418.45,407.84 L418.55,407.84 L418.65,407.83 L418.75,407.83 L418.85,407.83 L418.95,407.83 L419.05,407.83 L419.15,407.83 L419.25,407.83 L419.35,407.82 L419.45,407.82 L419.55,407.82 L419.65,407.82 L419.75,407.81 L419.85,407.81 L419.95,407.8 L420.05,407.8 L420.15,407.8 L420.25,407.79 L420.35,407.78 L420.45,407.78 L420.55,407.77 L420.65,407.76 L420.75,407.75 L420.85,407.74 L420.95,407.73 L421.05,407.72 L421.15,407.7 L421.25,407.69 L421.35,407.67 L421.45,407.65 L421.55,407.62 L421.65,407.59 L421.75,407.56 L421.85,407.52 L421.95,407.47 L422.05,407.41 L422.15,407.33 L422.25,407.23 L422.35,407.11 L422.45,406.95 L422.55,406.74 L422.65,406.45 L422.75,406.06 L422.85,405.53 L422.95,404.82 L423.05,403.98 L423.15,403.21 L423.25,402.88 L423.35,403.22 L423.45,404 L423.55,404.83 L423.65,405.52 L423.75,406.04 L423.85,406.42 L423.95,406.7 L424.05,406.9 L424.15,407.05 L424.25,407.16 L424.35,407.25 L424.45,407.31 L424.55,407.36 L424.65,407.41 L424.75,407.44 L424.85,407.46 L424.95,407.48 L425.05,407.49 L425.15,407.5 L425.25,407.51 L425.35,407.52 L425.45,407.52 L425.55,407.52 L425.65,407.51 L425.75,407.51 L425.85,407.5 L425.95,407.49 L426.05,407.48 L426.15,407.47 L426.25,407.46 L426.35,407.44 L426.45,407.42 L426.55,407.4 L426.65,407.38 L426.75,407.35 L426.85,407.32 L426.95,407.29 L427.05,407.26 L427.15,407.22 L427.25,407.17 L427.35,407.12 L427.45,407.07 L427.55,407.01 L427.65,406.94 L427.75,406.86 L427.85,406.77 L427.95,406.67 L428.05,406.55 L428.15,406.42 L428.25,406.26 L428.35,406.08 L428.45,405.86 L428.55,405.6 L428.65,405.29 L428.75,404.91 L428.85,404.44 L428.95,403.86 L429.05,403.11 L429.15,402.14 L429.25,400.87 L429.35,399.17 L429.45,396.85 L429.55,393.69 L429.65,389.43 L429.75,384.04 L429.85,378.31 L429.95,374.38 L430.05,374.57 L430.15,378.65 L430.25,384.12 L430.35,389.01 L430.45,392.67 L430.55,395.15 L430.65,396.66 L430.75,397.35 L430.85,397.3 L430.95,396.56 L431.05,395.25 L431.15,393.84 L431.25,393.27 L431.35,394.22 L431.45,396.29 L431.55,398.58 L431.65,400.53 L431.75,402.03 L431.85,403.15 L431.95,403.99 L432.05,404.62 L432.15,405.1 L432.25,405.48 L432.35,405.79 L432.45,406.03 L432.55,406.23 L432.65,406.4 L432.75,406.54 L432.85,406.65 L432.95,406.76 L433.05,406.84 L433.15,406.92 L433.25,406.99 L433.35,407.04 L433.45,407.09 L433.55,407.14 L433.65,407.18 L433.75,407.21 L433.85,407.25 L433.95,407.27 L434.05,407.3 L434.15,407.32 L434.25,407.34 L434.35,407.36 L434.45,407.38 L434.55,407.39 L434.65,407.4 L434.75,407.41 L434.85,407.42 L434.95,407.43 L435.05,407.43 L435.15,407.44 L435.25,407.44 L435.35,407.45 L435.45,407.45 L435.55,407.45 L435.65,407.44 L435.75,407.44 L435.85,407.44 L435.95,407.43 L436.05,407.42 L436.15,407.42 L436.25,407.41 L436.35,407.39 L436.45,407.38 L436.55,407.36 L436.65,407.34 L436.75,407.32 L436.85,407.3 L436.95,407.27 L437.05,407.23 L437.15,407.2 L437.25,407.15 L437.35,407.1 L437.45,407.04 L437.55,406.97 L437.65,406.89 L437.75,406.79 L437.85,406.67 L437.95,406.53 L438.05,406.35 L438.15,406.14 L438.25,405.86 L438.35,405.52 L438.45,405.06 L438.55,404.47 L438.65,403.66 L438.75,402.57 L438.85,401.07 L438.95,399.06 L439.05,396.55 L439.15,393.99 L439.25,392.43 L439.35,392.84 L439.45,394.91 L439.55,397.47 L439.65,399.7 L439.75,401.4 L439.85,402.6 L439.95,403.42 L440.05,403.95 L440.15,404.24 L440.25,404.33 L440.35,404.21 L440.45,403.89 L440.55,403.42 L440.65,402.97 L440.75,402.86 L440.85,403.24 L440.95,403.94 L441.05,404.67 L441.15,405.27 L441.25,405.73 L441.35,406.07 L441.45,406.32 L441.55,406.51 L441.65,406.66 L441.75,406.78 L441.85,406.87 L441.95,406.94 L442.05,407 L442.15,407.04 L442.25,407.08 L442.35,407.11 L442.45,407.14 L442.55,407.16 L442.65,407.18 L442.75,407.19 L442.85,407.2 L442.95,407.21 L443.05,407.21 L443.15,407.22 L443.25,407.22 L443.35,407.22 L443.45,407.22 L443.55,407.21 L443.65,407.21 L443.75,407.2 L443.85,407.19 L443.95,407.18 L444.05,407.17 L444.15,407.16 L444.25,407.14 L444.35,407.13 L444.45,407.11 L444.55,407.09 L444.65,407.07 L444.75,407.05 L444.85,407.03 L444.95,407 L445.05,406.97 L445.15,406.94 L445.25,406.91 L445.35,406.87 L445.45,406.83 L445.55,406.79 L445.65,406.74 L445.75,406.68 L445.85,406.63 L445.95,406.56 L446.05,406.49 L446.15,406.41 L446.25,406.32 L446.35,406.21 L446.45,406.09 L446.55,405.96 L446.65,405.79 L446.75,405.6 L446.85,405.37 L446.95,405.09 L447.05,404.74 L447.15,404.29 L447.25,403.72 L447.35,402.95 L447.45,401.93 L447.55,400.55 L447.65,398.71 L447.75,396.44 L447.85,394.11 L447.95,392.67 L448.05,392.96 L448.15,394.72 L448.25,396.91 L448.35,398.82 L448.45,400.25 L448.55,401.25 L448.65,401.93 L448.75,402.37 L448.85,402.64 L448.95,402.77 L449.05,402.81 L449.15,402.77 L449.25,402.65 L449.35,402.47 L449.45,402.23 L449.55,401.92 L449.65,401.54 L449.75,401.1 L449.85,400.57 L449.95,399.94 L450.05,399.21 L450.15,398.35 L450.25,397.32 L450.35,396.1 L450.45,394.63 L450.55,392.85 L450.65,390.68 L450.75,387.98 L450.85,384.59 L450.95,380.28 L451.05,374.68 L451.15,367.31 L451.25,357.41 L451.35,343.94 L451.45,325.51 L451.55,300.72 L451.65,269.52 L451.75,258.25 L451.85,258.25 L451.95,258.25 L452.05,258.25 L452.15,271.37 L452.25,298.47 L452.35,318.15 L452.45,330.63 L452.55,337.1 L452.65,339 L452.75,338.72 L452.85,340.04 L452.95,345.81 L453.05,355 L453.15,364.53 L453.25,372.53 L453.35,378.63 L453.45,383.11 L453.55,386.33 L453.65,388.56 L453.75,390 L453.85,390.72 L453.95,390.72 L454.05,389.95 L454.15,388.27 L454.25,385.63 L454.35,382.34 L454.45,379.59 L454.55,379.22 L454.65,381.85 L454.75,386.1 L454.85,390.31 L454.95,393.74 L455.05,396.36 L455.15,398.31 L455.25,399.78 L455.35,400.91 L455.45,401.79 L455.55,402.5 L455.65,403.07 L455.75,403.54 L455.85,403.94 L455.95,404.27 L456.05,404.56 L456.15,404.81 L456.25,405.03 L456.35,405.23 L456.45,405.4 L456.55,405.56 L456.65,405.7 L456.75,405.82 L456.85,405.94 L456.95,406.04 L457.05,406.14 L457.15,406.22 L457.25,406.31 L457.35,406.38 L457.45,406.45 L457.55,406.52 L457.65,406.58 L457.75,406.63 L457.85,406.68 L457.95,406.73 L458.05,406.78 L458.15,406.82 L458.25,406.86 L458.35,406.9 L458.45,406.94 L458.55,406.97 L458.65,407.01 L458.75,407.04 L458.85,407.06 L458.95,407.09 L459.05,407.12 L459.15,407.14 L459.25,407.17 L459.35,407.19 L459.45,407.21 L459.55,407.23 L459.65,407.25 L459.75,407.27 L459.85,407.28 L459.95,407.3 L460.05,407.32 L460.15,407.33 L460.25,407.34 L460.35,407.36 L460.45,407.37 L460.55,407.38 L460.65,407.39 L460.75,407.4 L460.85,407.41 L460.95,407.42 L461.05,407.43 L461.15,407.44 L461.25,407.44 L461.35,407.45 L461.45,407.45 L461.55,407.46 L461.65,407.46 L461.75,407.46 L461.85,407.46 L461.95,407.46 L462.05,407.46 L462.15,407.46 L462.25,407.45 L462.35,407.44 L462.45,407.43 L462.55,407.41 L462.65,407.38 L462.75,407.35 L462.85,407.31 L462.95,407.25 L463.05,407.17 L463.15,407.06 L463.25,406.9 L463.35,406.69 L463.45,406.42 L463.55,406.12 L463.65,405.88 L463.75,405.83 L463.85,406.02 L463.95,406.31 L464.05,406.59 L464.15,406.81 L464.25,406.97 L464.35,407.08 L464.45,407.16 L464.55,407.21 L464.65,407.23 L464.75,407.25 L464.85,407.25 L464.95,407.23 L465.05,407.21 L465.15,407.16 L465.25,407.1 L465.35,407.02 L465.45,406.92 L465.55,406.78 L465.65,406.59 L465.75,406.33 L465.85,405.98 L465.95,405.49 L466.05,404.83 L466.15,403.94 L466.25,402.87 L466.35,401.87 L466.45,401.42 L466.55,401.82 L466.65,402.81 L466.75,403.89 L466.85,404.8 L466.95,405.49 L467.05,406 L467.15,406.37 L467.25,406.64 L467.35,406.84 L467.45,407 L467.55,407.12 L467.65,407.21 L467.75,407.29 L467.85,407.35 L467.95,407.4 L468.05,407.44 L468.15,407.47 L468.25,407.5 L468.35,407.52 L468.45,407.53 L468.55,407.55 L468.65,407.55 L468.75,407.56 L468.85,407.55 L468.95,407.55 L469.05,407.54 L469.15,407.52 L469.25,407.49 L469.35,407.45 L469.45,407.39 L469.55,407.31 L469.65,407.21 L469.75,407.05 L469.85,406.84 L469.95,406.56 L470.05,406.21 L470.15,405.87 L470.25,405.7 L470.35,405.8 L470.45,406.12 L470.55,406.48 L470.65,406.8 L470.75,407.04 L470.85,407.22 L470.95,407.35 L471.05,407.44 L471.15,407.52 L471.25,407.57 L471.35,407.62 L471.45,407.65 L471.55,407.68 L471.65,407.7 L471.75,407.72 L471.85,407.74 L471.95,407.75 L472.05,407.76 L472.15,407.78 L472.25,407.78 L472.35,407.79 L472.45,407.8 L472.55,407.81 L472.65,407.81 L472.75,407.82 L472.85,407.82 L472.95,407.83 L473.05,407.83 L473.15,407.83 L473.25,407.84 L473.35,407.84 L473.45,407.84 L473.55,407.85 L473.65,407.85 L473.75,407.85 L473.85,407.85 L473.95,407.86 L474.05,407.86 L474.15,407.86 L474.25,407.86 L474.35,407.86 L474.45,407.86 L474.55,407.87 L474.65,407.87 L474.75,407.87 L474.85,407.87 L474.95,407.87 L475.05,407.87 L475.15,407.87 L475.25,407.87 L475.35,407.87 L475.45,407.87 L475.55,407.87 L475.65,407.87 L475.75,407.87 L475.85,407.87 L475.95,407.87 L476.05,407.88 L476.15,407.87 L476.25,407.87 L476.35,407.87 L476.45,407.87 L476.55,407.87 L476.65,407.87 L476.75,407.87 L476.85,407.87 L476.95,407.87 L477.05,407.87 L477.15,407.87 L477.25,407.86 L477.35,407.86 L477.45,407.86 L477.55,407.86 L477.65,407.85 L477.75,407.85 L477.85,407.84 L477.95,407.83 L478.05,407.83 L478.15,407.82 L478.25,407.8 L478.35,407.79 L478.45,407.77 L478.55,407.74 L478.65,407.71 L478.75,407.67 L478.85,407.61 L478.95,407.52 L479.05,407.41 L479.15,407.26 L479.25,407.08 L479.35,406.92 L479.45,406.84 L479.55,406.9 L479.65,407.07 L479.75,407.25 L479.85,407.4 L479.95,407.51 L480.05,407.59 L480.15,407.65 L480.25,407.7 L480.35,407.73 L480.45,407.76 L480.55,407.78 L480.65,407.79 L480.75,407.8 L480.85,407.81 L480.95,407.82 L481.05,407.82 L481.15,407.83 L481.25,407.83 L481.35,407.83 L481.45,407.83 L481.55,407.84 L481.65,407.84 L481.75,407.84 L481.85,407.84 L481.95,407.83 L482.05,407.83 L482.15,407.83 L482.25,407.83 L482.35,407.83 L482.45,407.83 L482.55,407.82 L482.65,407.82 L482.75,407.81 L482.85,407.81 L482.95,407.81 L483.05,407.8 L483.15,407.79 L483.25,407.79 L483.35,407.78 L483.45,407.77 L483.55,407.77 L483.65,407.76 L483.75,407.75 L483.85,407.74 L483.95,407.73 L484.05,407.71 L484.15,407.7 L484.25,407.68 L484.35,407.66 L484.45,407.65 L484.55,407.62 L484.65,407.6 L484.75,407.57 L484.85,407.54 L484.95,407.51 L485.05,407.47 L485.15,407.43 L485.25,407.38 L485.35,407.32 L485.45,407.25 L485.55,407.17 L485.65,407.08 L485.75,406.96 L485.85,406.83 L485.95,406.67 L486.05,406.47 L486.15,406.22 L486.25,405.91 L486.35,405.51 L486.45,404.98 L486.55,404.29 L486.65,403.36 L486.75,402.08 L486.85,400.33 L486.95,397.98 L487.05,395.07 L487.15,392.15 L487.25,390.45 L487.35,391.08 L487.45,393.59 L487.55,396.62 L487.65,399.27 L487.75,401.3 L487.85,402.79 L487.95,403.88 L488.05,404.68 L488.15,405.27 L488.25,405.73 L488.35,406.08 L488.45,406.36 L488.55,406.58 L488.65,406.76 L488.75,406.91 L488.85,407.03 L488.95,407.13 L489.05,407.22 L489.15,407.29 L489.25,407.35 L489.35,407.41 L489.45,407.46 L489.55,407.5 L489.65,407.54 L489.75,407.57 L489.85,407.6 L489.95,407.62 L490.05,407.65 L490.15,407.67 L490.25,407.68 L490.35,407.7 L490.45,407.72 L490.55,407.73 L490.65,407.74 L490.75,407.76 L490.85,407.77 L490.95,407.78 L491.05,407.78 L491.15,407.79 L491.25,407.8 L491.35,407.81 L491.45,407.81 L491.55,407.82 L491.65,407.83 L491.75,407.83 L491.85,407.84 L491.95,407.84 L492.05,407.84 L492.15,407.85 L492.25,407.85 L492.35,407.85 L492.45,407.86 L492.55,407.86 L492.65,407.86 L492.75,407.86 L492.85,407.87 L492.95,407.87 L493.05,407.87 L493.15,407.87 L493.25,407.87 L493.35,407.87 L493.45,407.87 L493.55,407.87 L493.65,407.87 L493.75,407.87 L493.85,407.87 L493.95,407.87 L494.05,407.87 L494.15,407.87 L494.25,407.87 L494.35,407.87 L494.45,407.87 L494.55,407.86 L494.65,407.86 L494.75,407.86 L494.85,407.85 L494.95,407.85 L495.05,407.84 L495.15,407.83 L495.25,407.82 L495.35,407.81 L495.45,407.8 L495.55,407.79 L495.65,407.77 L495.75,407.75 L495.85,407.73 L495.95,407.7 L496.05,407.66 L496.15,407.61 L496.25,407.55 L496.35,407.47 L496.45,407.37 L496.55,407.24 L496.65,407.05 L496.75,406.8 L496.85,406.46 L496.95,406 L497.05,405.46 L497.15,404.97 L497.25,404.78 L497.35,405.02 L497.45,405.52 L497.55,406.06 L497.65,406.5 L497.75,406.84 L497.85,407.08 L497.95,407.26 L498.05,407.39 L498.15,407.49 L498.25,407.57 L498.35,407.63 L498.45,407.67 L498.55,407.71 L498.65,407.74 L498.75,407.77 L498.85,407.79 L498.95,407.81 L499.05,407.82 L499.15,407.83 L499.25,407.84 L499.35,407.85 L499.45,407.86 L499.55,407.87 L499.65,407.87 L499.75,407.88 L499.85,407.88 L499.95,407.89 L500.05,407.89 L500.15,407.9 L500.25,407.9 L500.35,407.9 L500.45,407.9 L500.55,407.9 L500.65,407.91 L500.75,407.91 L500.85,407.91 L500.95,407.91 L501.05,407.91 L501.15,407.91 L501.25,407.91 L501.35,407.91 L501.45,407.9 L501.55,407.9 L501.65,407.9 L501.75,407.89 L501.85,407.89 L501.95,407.88 L502.05,407.88 L502.15,407.86 L502.25,407.85 L502.35,407.83 L502.45,407.81 L502.55,407.77 L502.65,407.73 L502.75,407.67 L502.85,407.58 L502.95,407.47 L503.05,407.35 L503.15,407.26 L503.25,407.25 L503.35,407.34 L503.45,407.46 L503.55,407.57 L503.65,407.66 L503.75,407.72 L503.85,407.77 L503.95,407.81 L504.05,407.84 L504.15,407.86 L504.25,407.87 L504.35,407.88 L504.45,407.89 L504.55,407.9 L504.65,407.91 L504.75,407.91 L504.85,407.92 L504.95,407.92 L505.05,407.92 L505.15,407.93 L505.25,407.93 L505.35,407.93 L505.45,407.93 L505.55,407.93 L505.65,407.93 L505.75,407.93 L505.85,407.94 L505.95,407.94 L506.05,407.94 L506.15,407.94 L506.25,407.94 L506.35,407.94 L506.45,407.94 L506.55,407.94 L506.65,407.94 L506.75,407.94 L506.85,407.94 L506.95,407.94 L507.05,407.94 L507.15,407.94 L507.25,407.94 L507.35,407.93 L507.45,407.93 L507.55,407.93 L507.65,407.93 L507.75,407.93 L507.85,407.93 L507.95,407.93 L508.05,407.93 L508.15,407.92 L508.25,407.92 L508.35,407.92 L508.45,407.92 L508.55,407.91 L508.65,407.91 L508.75,407.91 L508.85,407.9 L508.95,407.9 L509.05,407.89 L509.15,407.88 L509.25,407.88 L509.35,407.87 L509.45,407.86 L509.55,407.84 L509.65,407.82 L509.75,407.8 L509.85,407.77 L509.95,407.74 L510.05,407.69 L510.15,407.62 L510.25,407.53 L510.35,407.41 L510.45,407.26 L510.55,407.07 L510.65,406.91 L510.75,406.86 L510.85,406.95 L510.95,407.12 L511.05,407.29 L511.15,407.44 L511.25,407.54 L511.35,407.61 L511.45,407.67 L511.55,407.71 L511.65,407.73 L511.75,407.75 L511.85,407.77 L511.95,407.78 L512.05,407.78 L512.15,407.78 L512.25,407.78 L512.35,407.78 L512.45,407.78 L512.55,407.77 L512.65,407.76 L512.75,407.75 L512.85,407.74 L512.95,407.72 L513.05,407.7 L513.15,407.68 L513.25,407.66 L513.35,407.63 L513.45,407.59 L513.55,407.55 L513.65,407.5 L513.75,407.44 L513.85,407.37 L513.95,407.28 L514.05,407.17 L514.15,407.04 L514.25,406.86 L514.35,406.64 L514.45,406.35 L514.55,405.95 L514.65,405.42 L514.75,404.68 L514.85,403.69 L514.95,402.38 L515.05,400.87 L515.15,399.58 L515.25,399.21 L515.35,400.01 L515.45,401.46 L515.55,402.92 L515.65,404.11 L515.75,405 L515.85,405.65 L515.95,406.12 L516.05,406.48 L516.15,406.74 L516.25,406.94 L516.35,407.1 L516.45,407.23 L516.55,407.33 L516.65,407.41 L516.75,407.48 L516.85,407.54 L516.95,407.58 L517.05,407.62 L517.15,407.66 L517.25,407.69 L517.35,407.71 L517.45,407.74 L517.55,407.76 L517.65,407.77 L517.75,407.79 L517.85,407.8 L517.95,407.82 L518.05,407.83 L518.15,407.84 L518.25,407.85 L518.35,407.85 L518.45,407.86 L518.55,407.87 L518.65,407.87 L518.75,407.88 L518.85,407.89 L518.95,407.89 L519.05,407.9 L519.15,407.9 L519.25,407.9 L519.35,407.91 L519.45,407.91 L519.55,407.91 L519.65,407.92 L519.75,407.92 L519.85,407.92 L519.95,407.92 L520.05,407.93 L520.15,407.93 L520.25,407.93 L520.35,407.93 L520.45,407.93 L520.55,407.93 L520.65,407.94 L520.75,407.94 L520.85,407.94 L520.95,407.94 L521.05,407.94 L521.15,407.94 L521.25,407.94 L521.35,407.94 L521.45,407.95 L521.55,407.95 L521.65,407.95 L521.75,407.95 L521.85,407.95 L521.95,407.95 L522.05,407.95 L522.15,407.95 L522.25,407.95 L522.35,407.95 L522.45,407.95 L522.55,407.95 L522.65,407.95 L522.75,407.95 L522.85,407.95 L522.95,407.95 L523.05,407.96 L523.15,407.96 L523.25,407.96 L523.35,407.96 L523.45,407.96 L523.55,407.96 L523.65,407.96 L523.75,407.96 L523.85,407.96 L523.95,407.96 L524.05,407.96 L524.15,407.96 L524.25,407.96 L524.35,407.96 L524.45,407.96 L524.55,407.96 L524.65,407.96 L524.75,407.96 L524.85,407.96 L524.95,407.96 L525.05,407.95 L525.15,407.95 L525.25,407.95 L525.35,407.95 L525.45,407.95 L525.55,407.95 L525.65,407.95 L525.75,407.95 L525.85,407.95 L525.95,407.95 L526.05,407.95 L526.15,407.95 L526.25,407.94 L526.35,407.94 L526.45,407.94 L526.55,407.94 L526.65,407.94 L526.75,407.93 L526.85,407.93 L526.95,407.93 L527.05,407.92 L527.15,407.92 L527.25,407.91 L527.35,407.9 L527.45,407.9 L527.55,407.89 L527.65,407.88 L527.75,407.87 L527.85,407.85 L527.95,407.83 L528.05,407.81 L528.15,407.78 L528.25,407.74 L528.35,407.7 L528.45,407.63 L528.55,407.55 L528.65,407.43 L528.75,407.28 L528.85,407.06 L528.95,406.79 L529.05,406.49 L529.15,406.26 L529.25,406.24 L529.35,406.44 L529.45,406.74 L529.55,407.02 L529.65,407.24 L529.75,407.41 L529.85,407.53 L529.95,407.62 L530.05,407.69 L530.15,407.74 L530.25,407.77 L530.35,407.8 L530.45,407.83 L530.55,407.85 L530.65,407.86 L530.75,407.88 L530.85,407.89 L530.95,407.9 L531.05,407.9 L531.15,407.91 L531.25,407.92 L531.35,407.92 L531.45,407.92 L531.55,407.93 L531.65,407.93 L531.75,407.93 L531.85,407.94 L531.95,407.94 L532.05,407.94 L532.15,407.94 L532.25,407.94 L532.35,407.95 L532.45,407.95 L532.55,407.95 L532.65,407.95 L532.75,407.95 L532.85,407.95 L532.95,407.95 L533.05,407.95 L533.15,407.95 L533.25,407.95 L533.35,407.95 L533.45,407.95 L533.55,407.95 L533.65,407.95 L533.75,407.95 L533.85,407.95 L533.95,407.95 L534.05,407.95 L534.15,407.95 L534.25,407.95 L534.35,407.95 L534.45,407.95 L534.55,407.95 L534.65,407.95 L534.75,407.95 L534.85,407.95 L534.95,407.95 L535.05,407.95 L535.15,407.95 L535.25,407.95 L535.35,407.95 L535.45,407.95 L535.55,407.95 L535.65,407.95 L535.75,407.95 L535.85,407.95 L535.95,407.95 L536.05,407.95 L536.15,407.95 L536.25,407.95 L536.35,407.95 L536.45,407.95 L536.55,407.95 L536.65,407.94 L536.75,407.94 L536.85,407.94 L536.95,407.94 L537.05,407.94 L537.15,407.94 L537.25,407.94 L537.35,407.94 L537.45,407.94 L537.55,407.93 L537.65,407.93 L537.75,407.93 L537.85,407.93 L537.95,407.93 L538.05,407.93 L538.15,407.92 L538.25,407.92 L538.35,407.92 L538.45,407.92 L538.55,407.92 L538.65,407.91 L538.75,407.91 L538.85,407.91 L538.95,407.91 L539.05,407.9 L539.15,407.9 L539.25,407.9 L539.35,407.89 L539.45,407.89 L539.55,407.88 L539.65,407.88 L539.75,407.87 L539.85,407.87 L539.95,407.86 L540.05,407.86 L540.15,407.85 L540.25,407.84 L540.35,407.84 L540.45,407.83 L540.55,407.82 L540.65,407.81 L540.75,407.8 L540.85,407.79 L540.95,407.78 L541.05,407.77 L541.15,407.75 L541.25,407.74 L541.35,407.72 L541.45,407.7 L541.55,407.68 L541.65,407.65 L541.75,407.63 L541.85,407.6 L541.95,407.56 L542.05,407.53 L542.15,407.48 L542.25,407.43 L542.35,407.38 L542.45,407.31 L542.55,407.23 L542.65,407.14 L542.75,407.03 L542.85,406.9 L542.95,406.74 L543.05,406.54 L543.15,406.3 L543.25,405.99 L543.35,405.59 L543.45,405.07 L543.55,404.38 L543.65,403.45 L543.75,402.18 L543.85,400.44 L543.95,398.11 L544.05,395.28 L544.15,392.54 L544.25,391.14 L544.35,392.01 L544.45,394.54 L544.55,397.44 L544.65,399.91 L544.75,401.79 L544.85,403.17 L544.95,404.18 L545.05,404.92 L545.15,405.48 L545.25,405.9 L545.35,406.23 L545.45,406.49 L545.55,406.69 L545.65,406.86 L545.75,407 L545.85,407.12 L545.95,407.21 L546.05,407.29 L546.15,407.36 L546.25,407.42 L546.35,407.47 L546.45,407.52 L546.55,407.56 L546.65,407.59 L546.75,407.62 L546.85,407.65 L546.95,407.68 L547.05,407.7 L547.15,407.72 L547.25,407.73 L547.35,407.75 L547.45,407.77 L547.55,407.78 L547.65,407.79 L547.75,407.8 L547.85,407.81 L547.95,407.82 L548.05,407.83 L548.15,407.84 L548.25,407.85 L548.35,407.85 L548.45,407.86 L548.55,407.87 L548.65,407.87 L548.75,407.88 L548.85,407.88 L548.95,407.89 L549.05,407.89 L549.15,407.9 L549.25,407.9 L549.35,407.9 L549.45,407.91 L549.55,407.91 L549.65,407.91 L549.75,407.92 L549.85,407.92 L549.95,407.92 L550.05,407.92 L550.15,407.93 L550.25,407.93 L550.35,407.93 L550.45,407.93 L550.55,407.93 L550.65,407.94 L550.75,407.94 L550.85,407.94 L550.95,407.94 L551.05,407.94 L551.15,407.94 L551.25,407.94 L551.35,407.95 L551.45,407.95 L551.55,407.95 L551.65,407.95 L551.75,407.95 L551.85,407.95 L551.95,407.95 L552.05,407.95 L552.15,407.96 L552.25,407.96 L552.35,407.96 L552.45,407.96 L552.55,407.96 L552.65,407.96 L552.75,407.96 L552.85,407.96 L552.95,407.96 L553.05,407.96 L553.15,407.96 L553.25,407.96 L553.35,407.96 L553.45,407.97 L553.55,407.97 L553.65,407.97 L553.75,407.97 L553.85,407.97 L553.95,407.97 L554.05,407.97 L554.15,407.97 L554.25,407.97 L554.35,407.97 L554.45,407.97 L554.55,407.97 L554.65,407.97 L554.75,407.97 L554.85,407.97 L554.95,407.97 L555.05,407.97 L555.15,407.97 L555.25,407.97 L555.35,407.97 L555.45,407.97 L555.55,407.97 L555.65,407.98 L555.75,407.98 L555.85,407.98 L555.95,407.98 L556.05,407.98 L556.15,407.98 L556.25,407.98 L556.35,407.98 L556.45,407.98 L556.55,407.98 L556.65,407.98 L556.75,407.98 L556.85,407.98 L556.95,407.98 L557.05,407.98 L557.15,407.98 L557.25,407.98 L557.35,407.98 L557.45,407.98 L557.55,407.98 L557.65,407.98 L557.75,407.98 L557.85,407.98 L557.95,407.98 L558.05,407.98 L558.15,407.98 L558.25,407.98 L558.35,407.98 L558.45,407.98 L558.55,407.98 L558.65,407.98 L558.75,407.98 L558.85,407.98 L558.95,407.98 L559.05,407.98 L559.15,407.98 L559.25,407.98 L559.35,407.98 L559.45,407.98 L559.55,407.98 L559.65,407.98 L559.75,407.98 L559.85,407.98 L559.95,407.98 L560.05,407.98 L560.15,407.98 L560.25,407.98 L560.35,407.98 L560.45,407.99 L560.55,407.99 L560.65,407.99 L560.75,407.99 L560.85,407.99 L560.95,407.99 L561.05,407.99 L561.15,407.99 L561.25,407.99 L561.35,407.99 L561.45,407.99 L561.55,407.99 L561.65,407.99 L561.75,407.99 L561.85,407.99 L561.95,407.99 L562.05,407.99 L562.15,407.99 L562.25,407.99 L562.35,407.99 L562.45,407.99 L562.55,407.99 L562.65,407.99 L562.75,407.99 L562.85,407.99 L562.95,407.99 L563.05,407.99 L563.15,407.99 L563.25,407.99 L563.35,407.99 L563.45,407.99 L563.55,407.99 L563.65,407.99 L563.75,407.99 L563.85,407.99 L563.95,407.99 L564.05,407.99 L564.15,407.99 L564.25,407.99 L564.35,407.99 L564.45,407.99 L564.55,407.99 L564.65,407.99 L564.75,407.99 L564.85,407.99 L564.95,407.99 L565.05,407.99 L565.15,407.99 L565.25,407.99 L565.35,407.99 L565.45,407.99 L565.55,407.99 L565.65,407.99 L565.75,407.99 L565.85,407.99 L565.95,407.99 L566.05,407.99 L566.15,407.99 L566.25,407.99 L566.35,407.99 L566.45,407.99 L566.55,407.99 L566.65,407.99 L566.75,407.99 L566.85,407.99 L566.95,407.99 L567.05,407.99 L567.15,407.99 L567.25,407.99 L567.35,407.99 L567.45,407.99 L567.55,407.99 L567.65,407.99 L567.75,407.99 L567.85,407.99 L567.95,407.99 L568.05,407.99 L568.15,407.99 L568.25,407.99 L568.35,407.99 L568.45,407.99 L568.55,407.99 L568.65,407.99 L568.75,407.99 L568.85,407.99 L568.95,407.99 L569.05,407.99 L569.15,407.99 L569.25,407.99 L569.35,407.99 L569.45,407.99 L569.55,407.99 L569.65,407.99 L569.75,407.99 L569.85,407.99 L569.95,407.99 L570.05,407.99 L570.15,407.99 L570.25,407.99 L570.35,407.99 L570.45,407.99 L570.55,407.99 L570.65,407.99 L570.75,407.99 L570.85,407.99 L570.95,407.99 L571.05,407.99 L571.15,407.99 L571.25,407.99 L571.35,407.99 L571.45,407.99 L571.55,407.99 L571.65,407.99 L571.75,407.99 L571.85,407.99 L571.95,407.99 L572.05,407.99 L572.15,407.99 L572.25,407.99 L572.35,407.99 L572.45,407.99 L572.55,407.99 L572.65,407.99 L572.75,407.99 L572.85,407.99 L572.95,407.99 L573.05,407.99 L573.15,407.99 L573.25,407.99 L573.35,407.99 L573.45,407.99 L573.55,407.99 L573.65,407.99 L573.75,407.99 L573.85,407.99 L573.95,407.99 L574.05,407.99 L574.15,407.99 L574.25,407.99 L574.35,407.99 L574.45,407.99 L574.55,407.99 L574.65,407.99 L574.75,407.99 L574.85,407.99 L574.95,407.99 L575.05,407.99 L575.15,407.99 L575.25,407.99 L575.35,407.99 L575.45,407.99 L575.55,407.99 L575.65,407.99 L575.75,407.99 L575.85,407.99 L575.95,407.99 L576.05,407.99 L576.15,407.99 L576.25,407.99 L576.35,407.99 L576.45,407.99 L576.55,407.99 L576.65,407.99 L576.75,407.99 L576.85,407.99 L576.95,407.99 L577.05,407.99 L577.15,407.99 L577.25,407.99 L577.35,407.99 L577.45,407.99 L577.55,407.99 L577.65,407.99 L577.75,407.99 L577.85,407.99 L577.95,407.99 L578.05,407.99 L578.15,407.99 L578.25,407.99 L578.35,407.99 L578.45,407.99 L578.55,407.99 L578.65,407.99 L578.75,407.99 L578.85,407.99 L578.95,407.99 L579.05,407.99 L579.15,407.99 L579.25,407.99 L579.35,407.99 L579.45,407.99 L579.55,407.99 L579.65,407.99 L579.75,407.99 L579.85,407.99 L579.95,407.99 L580.05,407.99 L580.15,407.99 L580.25,407.99 L580.35,407.99 L580.45,407.99 L580.55,407.99 L580.65,407.99 L580.75,407.99 L580.85,407.99 L580.95,407.99 L581.05,407.99 L581.15,407.99 L581.25,407.99 L581.35,407.99 L581.45,407.99 L581.55,407.99 L581.65,407.99 L581.75,407.99 L581.85,407.99 L581.95,407.99 L582.05,407.99 L582.15,407.99 L582.25,407.99 L582.35,407.99 L582.45,407.99 L582.55,407.99 L582.65,407.99 L582.75,407.99 L582.85,407.99 L582.95,407.99 L583.05,407.99 L583.15,407.99 L583.25,407.99 L583.35,407.99 L583.45,407.99 L583.55,407.99 L583.65,407.99 L583.75,407.99 L583.85,407.99 L583.95,407.99 L584.05,407.99 L584.15,407.99 L584.25,407.99 L584.35,407.99 L584.45,407.99 L584.55,407.99 L584.65,407.99 L584.75,407.99 L584.85,407.99 L584.95,407.99 L585.05,407.99 L585.15,407.99 L585.25,407.99 L585.35,407.99 L585.45,407.99 L585.55,407.99 L585.65,407.99 L585.75,407.99 L585.85,407.99 L585.95,407.99 L586.05,407.99 L586.15,407.99 L586.25,407.99 L586.35,407.99 L586.45,407.99 L586.55,407.99 L586.65,407.99 L586.75,407.99 L586.85,407.99 L586.95,407.99 L587.05,407.99 L587.15,407.99 L587.25,407.99 L587.35,407.99 L587.45,407.99 L587.55,407.99 L587.65,407.99 L587.75,407.99 L587.85,407.99 L587.95,407.99 L588.05,407.99 L588.15,407.99 L588.25,407.99 L588.35,407.99 L588.45,407.99 L588.55,407.99 L588.65,407.99 L588.75,407.99 L588.85,407.99 L588.95,407.99 L589.05,407.99 L589.15,407.99 L589.25,407.99 L589.35,407.99 L589.45,407.99 L589.55,407.99 L589.65,407.99 L589.75,407.99 L589.85,407.99 L589.95,407.99 L590.05,407.99 L590.15,407.99 L590.25,407.99 L590.35,407.99 L590.45,407.99 L590.55,407.99 L590.65,407.99 L590.75,407.99 L590.85,407.99 L590.95,407.99 L591.05,407.99 L591.15,407.99 L591.25,408 L591.35,408 L591.45,408 L591.55,408 L591.65,408 L591.75,408 L591.85,408 L591.95,408 L592.05,408 L592.15,408 L592.25,408 L592.35,408 L592.45,408 L592.55,408 L592.65,408 L592.75,408 L592.85,408 L592.95,408 L593.05,408 L593.15,408 L593.25,408 L593.35,408 L593.45,408 L593.55,408 L593.65,408 L593.75,408 L593.85,408 L593.95,408 L594.05,408 L594.15,408 L594.25,408 L594.35,408 L594.45,408 L594.55,408 L594.65,408 L594.75,408 L594.85,408 L594.95,408 L595.05,408 L595.15,408 L595.25,408 L595.35,408 L595.45,408 L595.55,408 L595.65,408 L595.75,408 L595.85,408 L595.95,408 L596.05,408 L596.15,408 L596.25,408 L596.35,408 L596.45,408 L596.55,408 L596.65,408 L596.75,408 L596.85,408 L596.95,408 L597.05,408 L597.15,408 L597.25,408 L597.35,408 L597.45,408 L597.55,408 L597.65,408 L597.75,408 L597.85,408 L597.95,408 L598.05,408 L598.15,408 L598.25,408 L598.35,408 L598.45,408 L598.55,408 L598.65,408 L598.75,408 L598.85,408 L598.95,408 L599.05,408 L599.15,408 L599.25,408 L599.35,408 L599.45,408 L599.55,408 L599.65,408 L599.75,408 L599.85,408 L599.95,408 L600.05,408 L600.15,408 L600.25,408 L600.35,408 L600.45,408 L600.55,408 L600.65,408 L600.75,408 L600.85,408 L600.95,408 L601.05,408 L601.15,408 L601.25,408 L601.35,408 L601.45,408 L601.55,408 L601.65,408 L601.75,408 L601.85,408 L601.95,408 L602.05,408 L602.15,408 L602.25,408 L602.35,408 L602.45,408 L602.55,408 L602.65,408 L602.75,408 L602.85,408 L602.95,408 L603.05,408 L603.15,408 L603.25,408 L603.35,408 L603.45,408 L603.55,408 L603.65,408 L603.75,408 L603.85,408 L603.95,408 L604.05,408 L604.15,408 L604.25,408 L604.35,408 L604.45,408 L604.55,408 L604.65,408 L604.75,408 L604.85,408 L604.95,408 L605.05,408 L605.15,408 L605.25,408 L605.35,408 L605.45,408 L605.55,408 L605.65,408 L605.75,408 L605.85,408 L605.95,408 L606.05,408 L606.15,408 L606.25,408 L606.35,408 L606.45,408 L606.55,408 L606.65,408 L606.75,408 L606.85,408 L606.95,408 L607.05,408 L607.15,408 L607.25,408 L607.35,408 L607.45,408 L607.55,408 L607.65,408 L607.75,408 L607.85,408 L607.95,408 L608.05,408 L608.15,408 L608.25,408 L608.35,408 L608.45,408 L608.55,408 L608.65,408 L608.75,408 L608.85,408 L608.95,408 L609.05,408 L609.15,408 L609.25,408 L609.35,408 L609.45,408 L609.55,408 L609.65,408 L609.75,408 L609.85,408 L609.95,408 L610.05,408 L610.15,408 L610.25,408 L610.35,408 L610.45,408 L610.55,408 L610.65,408 L610.75,408 L610.85,408 L610.95,408 L611.05,408 L611.15,408 L611.25,408 L611.35,408 L611.45,408 L611.55,408 L611.65,408 L611.75,408 L611.85,408 L611.95,408 L612.05,408 L612.15,408 L612.25,408 L612.35,408 L612.45,408 L612.55,408 L612.65,408 L612.75,408 L612.85,408 L612.95,408 L613.05,408 L613.15,408 L613.25,408 L613.35,408 L613.45,408 L613.55,408 L613.65,408 L613.75,408 L613.85,408 L613.95,408 L614.05,408 L614.15,408 L614.25,408 L614.35,408 L614.45,408 L614.55,408 L614.65,408 L614.75,408 L614.85,408 L614.95,408 L615.05,408 L615.15,408 L615.25,408 L615.35,408 L615.45,408 L615.55,408 L615.65,408 L615.75,408 L615.85,408 L615.95,408 L616.05,408 L616.15,408 L616.25,408 L616.35,408 L616.45,408 L616.55,408 L616.65,408 L616.75,408 L616.85,408 L616.95,408 L617.05,408 L617.15,408 L617.25,408 L617.35,408 L617.45,408 L617.55,408 L617.65,408 L617.75,408 L617.85,408 L617.95,408 L618.05,408 L618.15,408 L618.25,408 L618.35,408 L618.45,408 L618.55,408 L618.65,408 L618.75,408 L618.85,408 L618.95,408 L619.05,408 L619.15,408 L619.25,408 L619.35,408 L619.45,408 L619.55,408 L619.65,408 L619.75,408 L619.85,408 L619.95,408 L620.05,408 L620.15,408 L620.25,408 L620.35,408 L620.45,408 L620.55,408 L620.65,408 L620.75,408 L620.85,408 L620.95,408 L621.05,408 L621.15,408 L621.25,408 L621.35,408 L621.45,408 L621.55,408 L621.65,408 L621.75,408 L621.85,408 L621.95,408 L622.05,408 L622.15,408 L622.25,408 L622.35,408 L622.45,408 L622.55,408 L622.65,408 L622.75,408 L622.85,408 L622.95,408 L623.05,408 L623.15,408 L623.25,408 L623.35,408 L623.45,408 L623.55,408 L623.65,408 L623.75,408 L623.85,408 L623.95,408 L624.05,408 L624.15,408 L624.25,408 L624.35,408 L624.45,408 L624.55,408 L624.65,408 L624.75,408 L624.85,408 L624.95,408 L625.05,408 L625.15,408 L625.25,408 L625.35,408 L625.45,408 L625.55,408 L625.65,408 L625.75,408 L625.85,408 L625.95,408 L626.05,408 L626.15,408 L626.25,408 L626.35,408 L626.45,408 L626.55,408 L626.65,408 L626.75,408 L626.85,408 L626.95,408 L627.05,408 L627.15,408 L627.25,408 L627.35,408 L627.45,408 L627.55,408 L627.65,408 L627.75,408 L627.85,408 L627.95,408 L628.05,408 L628.15,408 L628.25,408 L628.35,408 L628.45,408 L628.55,408 L628.65,408 L628.75,408 L628.85,408 L628.95,408 L629.05,408 L629.15,408 L629.25,408 L629.35,408 L629.45,408 L629.55,408 L629.65,408 L629.75,408 L629.85,408 L629.95,408 L630.05,408 L630.15,408 L630.25,408 L630.35,408 L630.45,408 L630.55,408 L630.65,408 L630.75,408 L630.85,408 L630.95,408 L631.05,408 L631.15,408 L631.25,408 L631.35,408 L631.45,408 L631.55,408 L631.65,408 L631.75,408 L631.85,408 L631.95,408 L632.05,408 L632.15,408 L632.25,408 L632.35,408 L632.45,408 L632.55,408 L632.65,408 L632.75,408 L632.85,408 L632.95,408 L633.05,408 L633.15,408 L633.25,408 L633.35,408 L633.45,408 L633.55,408 L633.65,407.99 L633.75,407.99 L633.85,407.99 L633.95,407.99 L634.05,407.99 L634.15,407.99 L634.25,407.99 L634.35,407.99 L634.45,407.99 L634.55,407.99 L634.65,407.99 L634.75,407.99 L634.85,407.99 L634.95,407.99 L635.05,407.99 L635.15,407.99 L635.25,407.99 L635.35,407.99 L635.45,407.99 L635.55,407.99 L635.65,407.99 L635.75,407.99 L635.85,407.99 L635.95,407.99 L636.05,407.99 L636.15,407.99 L636.25,407.99 L636.35,407.99 L636.45,407.99 L636.55,407.99 L636.65,407.99 L636.75,407.99 L636.85,407.99 L636.95,407.99 L637.05,407.99 L637.15,407.99 L637.25,407.99 L637.35,407.99 L637.45,407.99 L637.55,407.99 L637.65,407.99 L637.75,407.99 L637.85,407.99 L637.95,407.99 L638.05,407.99 L638.15,407.99 L638.25,407.99 L638.35,407.99 L638.45,407.99 L638.55,407.99 L638.65,407.99 L638.75,407.99 L638.85,407.99 L638.95,407.99 L639.05,407.99 L639.15,407.99 L639.25,407.99 L639.35,407.99 L639.45,407.99 L639.55,407.99 L639.65,407.99 L639.75,407.99 L639.85,407.99 L639.95,407.99 L640.05,407.99 L640.15,407.99 L640.25,407.99 L640.35,407.99 L640.45,407.99 L640.55,407.99 L640.65,407.99 L640.75,407.99 L640.85,407.99 L640.95,407.99 L641.05,407.99 L641.15,407.99 L641.25,407.99 L641.35,407.99 L641.45,407.99 L641.55,407.99 L641.65,407.99 L641.75,407.99 L641.85,407.99 L641.95,407.99 L642.05,407.99 L642.15,407.99 L642.25,407.99 L642.35,407.99 L642.45,407.99 L642.55,407.99 L642.65,407.99 L642.75,407.99 L642.85,407.99 L642.95,407.99 L643.05,407.99 L643.15,407.99 L643.25,407.99 L643.35,407.99 L643.45,407.99 L643.55,407.99 L643.65,407.99 L643.75,407.99 L643.85,407.99 L643.95,407.99 L644.05,407.99 L644.15,407.99 L644.25,407.99 L644.35,407.99 L644.45,407.99 L644.55,407.99 L644.65,407.99 L644.75,407.99 L644.85,407.99 L644.95,407.99 L645.05,407.99 L645.15,407.99 L645.25,407.99 L645.35,407.99 L645.45,407.99 L645.55,407.99 L645.65,407.99 L645.75,407.99 L645.85,407.99 L645.95,407.99 L646.05,407.99 L646.15,407.99 L646.25,407.99 L646.35,407.99 L646.45,407.99 L646.55,407.99 L646.65,407.99 L646.75,407.99 L646.85,407.99 L646.95,407.99 L647.05,407.99 L647.15,407.99 L647.25,407.99 L647.35,407.99 L647.45,407.99 L647.55,407.99 L647.65,407.99 L647.75,407.99 L647.85,407.99 L647.95,407.99 L648.05,407.99 L648.15,407.99 L648.25,407.99 L648.35,407.99 L648.45,407.99 L648.55,407.99 L648.65,407.99 L648.75,407.99 L648.85,407.99 L648.95,407.99 L649.05,407.99 L649.15,407.99 L649.25,407.99 L649.35,407.99 L649.45,407.99 L649.55,407.99 L649.65,407.99 L649.75,407.99 L649.85,407.99 L649.95,407.99 L650.05,407.99 L650.15,407.99 L650.25,407.99 L650.35,407.99 L650.45,407.99 L650.55,407.99 L650.65,407.99 L650.75,407.99 L650.85,407.99 L650.95,407.99 L651.05,407.99 L651.15,407.99 L651.25,407.99 L651.35,407.99 L651.45,407.99 L651.55,407.99 L651.65,407.99 L651.75,407.99 L651.85,407.99 L651.95,407.99 L652.05,407.99 L652.15,407.99 L652.25,407.99 L652.35,407.99 L652.45,407.99 L652.55,407.99 L652.65,407.99 L652.75,407.99 L652.85,407.99 L652.95,407.99 L653.05,407.99 L653.15,407.99 L653.25,407.99 L653.35,407.99 L653.45,407.99 L653.55,407.99 L653.65,407.99 L653.75,407.99 L653.85,407.99 L653.95,407.99 L654.05,407.99 L654.15,407.99 L654.25,407.99 L654.35,407.99 L654.45,407.99 L654.55,407.99 L654.65,407.99 L654.75,407.99 L654.85,407.99 L654.95,407.99 L655.05,407.99 L655.15,407.99 L655.25,407.99 L655.35,407.99 L655.45,407.99 L655.55,407.99 L655.65,407.99 L655.75,407.99 L655.85,407.99 L655.95,407.99 L656.05,407.99 L656.15,407.99 L656.25,407.99 L656.35,407.99 L656.45,407.99 L656.55,407.99 L656.65,407.99 L656.75,407.99 L656.85,407.99 L656.95,407.99 L657.05,407.99 L657.15,407.99 L657.25,407.99 L657.35,407.99 L657.45,407.99 L657.55,407.99 L657.65,407.99 L657.75,407.99 L657.85,407.99 L657.95,407.99 L658.05,407.99 L658.15,407.99 L658.25,407.99 L658.35,407.99 L658.45,407.99 L658.55,407.99 L658.65,407.99 L658.75,407.99 L658.85,407.99 L658.95,407.99 L659.05,407.99 L659.15,407.99 L659.25,407.99 L659.35,407.99 L659.45,407.99 L659.55,407.99 L659.65,407.98 L659.75,407.98 L659.85,407.98 L659.95,407.98 L660.05,407.98 L660.15,407.98 L660.25,407.98 L660.35,407.98 L660.45,407.98 L660.55,407.98 L660.65,407.98 L660.75,407.98 L660.85,407.98 L660.95,407.98 L661.05,407.98 L661.15,407.98 L661.25,407.98 L661.35,407.98 L661.45,407.98 L661.55,407.98 L661.65,407.98 L661.75,407.98 L661.85,407.98 L661.95,407.98 L662.05,407.98 L662.15,407.98 L662.25,407.98 L662.35,407.98 L662.45,407.98 L662.55,407.98 L662.65,407.98 L662.75,407.98 L662.85,407.98 L662.95,407.98 L663.05,407.98 L663.15,407.98 L663.25,407.98 L663.35,407.98 L663.45,407.98 L663.55,407.98 L663.65,407.98 L663.75,407.98 L663.85,407.98 L663.95,407.98 L664.05,407.98 L664.15,407.98 L664.25,407.98 L664.35,407.98 L664.45,407.98 L664.55,407.98 L664.65,407.98 L664.75,407.98 L664.85,407.98 L664.95,407.98 L665.05,407.98 L665.15,407.97 L665.25,407.97 L665.35,407.97 L665.45,407.97 L665.55,407.97 L665.65,407.97 L665.75,407.97 L665.85,407.97 L665.95,407.97 L666.05,407.97 L666.15,407.97 L666.25,407.97 L666.35,407.97 L666.45,407.97 L666.55,407.97 L666.65,407.97 L666.75,407.97 L666.85,407.97 L666.95,407.97 L667.05,407.97 L667.15,407.97 L667.25,407.97 L667.35,407.97 L667.45,407.97 L667.55,407.97 L667.65,407.97 L667.75,407.97 L667.85,407.96 L667.95,407.96 L668.05,407.96 L668.15,407.96 L668.25,407.96 L668.35,407.96 L668.45,407.96 L668.55,407.96 L668.65,407.96 L668.75,407.96 L668.85,407.96 L668.95,407.96 L669.05,407.96 L669.15,407.96 L669.25,407.96 L669.35,407.96 L669.45,407.96 L669.55,407.95 L669.65,407.95 L669.75,407.95 L669.85,407.95 L669.95,407.95 L670.05,407.95 L670.15,407.95 L670.25,407.95 L670.35,407.95 L670.45,407.95 L670.55,407.95 L670.65,407.95 L670.75,407.94 L670.85,407.94 L670.95,407.94 L671.05,407.94 L671.15,407.94 L671.25,407.94 L671.35,407.94 L671.45,407.94 L671.55,407.94 L671.65,407.94 L671.75,407.93 L671.85,407.93 L671.95,407.93 L672.05,407.93 L672.15,407.93 L672.25,407.93 L672.35,407.93 L672.45,407.92 L672.55,407.92 L672.65,407.92 L672.75,407.92 L672.85,407.92 L672.95,407.91 L673.05,407.91 L673.15,407.91 L673.25,407.91 L673.35,407.91 L673.45,407.9 L673.55,407.9 L673.65,407.9 L673.75,407.9 L673.85,407.89 L673.95,407.89 L674.05,407.89 L674.15,407.89 L674.25,407.88 L674.35,407.88 L674.45,407.88 L674.55,407.87 L674.65,407.87 L674.75,407.87 L674.85,407.86 L674.95,407.86 L675.05,407.85 L675.15,407.85 L675.25,407.84 L675.35,407.84 L675.45,407.83 L675.55,407.83 L675.65,407.82 L675.75,407.82 L675.85,407.81 L675.95,407.8 L676.05,407.79 L676.15,407.79 L676.25,407.78 L676.35,407.77 L676.45,407.76 L676.55,407.75 L676.65,407.74 L676.75,407.73 L676.85,407.72 L676.95,407.71 L677.05,407.69 L677.15,407.68 L677.25,407.66 L677.35,407.65 L677.45,407.63 L677.55,407.61 L677.65,407.59 L677.75,407.56 L677.85,407.54 L677.95,407.51 L678.05,407.48 L678.15,407.45 L678.25,407.41 L678.35,407.37 L678.45,407.33 L678.55,407.28 L678.65,407.23 L678.75,407.17 L678.85,407.1 L678.95,407.02 L679.05,406.94 L679.15,406.84 L679.25,406.72 L679.35,406.59 L679.45,406.44 L679.55,406.25 L679.65,406.04 L679.75,405.78 L679.85,405.48 L679.95,405.1 L680.05,404.63 L680.15,404.05 L680.25,403.3 L680.35,402.34 L680.45,401.07 L680.55,399.37 L680.65,397.05 L680.75,393.87 L680.85,389.56 L680.95,384.02 L681.05,377.88 L681.15,373.19 L681.25,372.68 L681.35,376.69 L681.45,382.75 L681.55,388.5 L681.65,393.06 L681.75,396.45 L681.85,398.91 L681.95,400.72 L682.05,402.06 L682.15,403.07 L682.25,403.84 L682.35,404.45 L682.45,404.93 L682.55,405.32 L682.65,405.63 L682.75,405.88 L682.85,406.1 L682.95,406.27 L683.05,406.42 L683.15,406.54 L683.25,406.65 L683.35,406.74 L683.45,406.81 L683.55,406.87 L683.65,406.93 L683.75,406.97 L683.85,407 L683.95,407.02 L684.05,407.04 L684.15,407.05 L684.25,407.05 L684.35,407.04 L684.45,407.03 L684.55,407 L684.65,406.97 L684.75,406.92 L684.85,406.86 L684.95,406.78 L685.05,406.68 L685.15,406.55 L685.25,406.4 L685.35,406.19 L685.45,405.93 L685.55,405.6 L685.65,405.16 L685.75,404.57 L685.85,403.77 L685.95,402.68 L686.05,401.19 L686.15,399.16 L686.25,396.61 L686.35,393.93 L686.45,392.17 L686.55,392.43 L686.65,394.52 L686.75,397.26 L686.85,399.72 L686.95,401.63 L687.05,403.04 L687.15,404.07 L687.25,404.82 L687.35,405.39 L687.45,405.82 L687.55,406.15 L687.65,406.41 L687.75,406.62 L687.85,406.79 L687.95,406.93 L688.05,407.05 L688.15,407.14 L688.25,407.23 L688.35,407.3 L688.45,407.36 L688.55,407.41 L688.65,407.46 L688.75,407.5 L688.85,407.53 L688.95,407.56 L689.05,407.59 L689.15,407.62 L689.25,407.64 L689.35,407.66 L689.45,407.68 L689.55,407.7 L689.65,407.71 L689.75,407.73 L689.85,407.74 L689.95,407.75 L690.05,407.77 L690.15,407.78 L690.25,407.79 L690.35,407.8 L690.45,407.8 L690.55,407.81 L690.65,407.82 L690.75,407.83 L690.85,407.83 L690.95,407.84 L691.05,407.84 L691.15,407.85 L691.25,407.85 L691.35,407.86 L691.45,407.86 L691.55,407.87 L691.65,407.87 L691.75,407.88 L691.85,407.88 L691.95,407.88 L692.05,407.89 L692.15,407.89 L692.25,407.89 L692.35,407.9 L692.45,407.9 L692.55,407.9 L692.65,407.9 L692.75,407.91 L692.85,407.91 L692.95,407.91 L693.05,407.91 L693.15,407.92 L693.25,407.92 L693.35,407.92 L693.45,407.92 L693.55,407.92 L693.65,407.92 L693.75,407.93 L693.85,407.93 L693.95,407.93 L694.05,407.93 L694.15,407.93 L694.25,407.93 L694.35,407.94 L694.45,407.94 L694.55,407.94 L694.65,407.94 L694.75,407.94 L694.85,407.94 L694.95,407.94 L695.05,407.94 L695.15,407.94 L695.25,407.95 L695.35,407.95 L695.45,407.95 L695.55,407.95 L695.65,407.95 L695.75,407.95 L695.85,407.95 L695.95,407.95 L696.05,407.95 L696.15,407.95 L696.25,407.95 L696.35,407.96 L696.45,407.96 L696.55,407.96 L696.65,407.96 L696.75,407.96 L696.85,407.96 L696.95,407.96 L697.05,407.96 L697.15,407.96 L697.25,407.96 L697.35,407.96 L697.45,407.96 L697.55,407.96 L697.65,407.96 L697.75,407.96 L697.85,407.96 L697.95,407.96 L698.05,407.97 L698.15,407.97 L698.25,407.97 L698.35,407.97 L698.45,407.97 L698.55,407.97 L698.65,407.97 L698.75,407.97 L698.85,407.97 L698.95,407.97 L699.05,407.97 L699.15,407.97 L699.25,407.97 L699.35,407.97 L699.45,407.97 L699.55,407.97 L699.65,407.97 L699.75,407.97 L699.85,407.97 L699.95,407.97 L700.05,407.97 L700.15,407.97 L700.25,407.97 L700.35,407.97 L700.45,407.97 L700.55,407.97 L700.65,407.98 L700.75,407.98 L700.85,407.98 L700.95,407.98 L701.05,407.98 L701.15,407.98 L701.25,407.98 L701.35,407.98 L701.45,407.98 L701.55,407.98 L701.65,407.98 L701.75,407.98 L701.85,407.98 L701.95,407.98 L702.05,407.98 L702.15,407.98 L702.25,407.98 L702.35,407.98 L702.45,407.98 L702.55,407.98 L702.65,407.98 L702.75,407.98 L702.85,407.98 L702.95,407.98 L703.05,407.98 L703.15,407.98 L703.25,407.98 L703.35,407.98 L703.45,407.98 L703.55,407.98 L703.65,407.98 L703.75,407.98 L703.85,407.98 L703.95,407.98 L704.05,407.98 L704.15,407.98 L704.25,407.98 L704.35,407.98 L704.45,407.98 L704.55,407.98 L704.65,407.98 L704.75,407.98 L704.85,407.98 L704.95,407.98 L705.05,407.98 L705.15,407.98 L705.25,407.98 L705.35,407.98 L705.45,407.98 L705.55,407.98 L705.65,407.98 L705.75,407.98 L705.85,407.99 L705.95,407.99 L706.05,407.99 L706.15,407.99 L706.25,407.99 L706.35,407.99 L706.45,407.99 L706.55,407.99 L706.65,407.99 L706.75,407.99 L706.85,407.99 L706.95,407.99 L707.05,407.99 L707.15,407.99 L707.25,407.99 L707.35,407.99 L707.45,407.99 L707.55,407.99 L707.65,407.99 L707.75,407.99 L707.85,407.99 L707.95,407.99 L708.05,407.99 L708.15,407.99 L708.25,407.99 L708.35,407.99 L708.45,407.99 L708.55,407.99 L708.65,407.99 L708.75,407.99 L708.85,407.99 L708.95,407.99 L709.05,407.99 L709.15,407.99 L709.25,407.99 L709.35,407.99 L709.45,407.99 L709.55,407.99 L709.65,407.99 L709.75,407.99 L709.85,407.99 L709.95,407.99 L710.05,407.99 L710.15,407.99 L710.25,407.99 L710.35,407.99 L710.45,407.99 L710.55,407.99 L710.65,407.99 L710.75,407.99 L710.85,407.99 L710.95,407.99 L711.05,407.99 L711.15,407.99 L711.25,407.99 L711.35,407.99 L711.45,407.99 L711.55,407.99 L711.65,407.99 L711.75,407.99 L711.85,407.99 L711.95,407.99 L712.05,407.99 L712.15,407.99 L712.25,407.99 L712.35,407.99 L712.45,407.99 L712.55,407.99 L712.65,407.99 L712.75,407.99 L712.85,407.99 L712.95,407.99 L713.05,407.99 L713.15,407.99 L713.25,407.99 L713.35,407.99 L713.45,407.99 L713.55,407.99 L713.65,407.99 L713.75,407.99 L713.85,407.99 L713.95,407.99 L714.05,407.99 L714.15,407.99 L714.25,407.99 L714.35,407.99 L714.45,407.99 L714.55,407.99 L714.65,407.99 L714.75,407.99 L714.85,407.99 L714.95,407.99 L715.05,407.99 L715.15,407.99 L715.25,407.99 L715.35,407.99 L715.45,407.99 L715.55,407.99 L715.65,407.99 L715.75,407.99 L715.85,407.99 L715.95,407.99 L716.05,407.99 L716.15,407.99 L716.25,407.99 L716.35,407.99 L716.45,407.99 L716.55,407.99 L716.65,407.99" fill="none" stroke="#5c5cff" stroke-width="0.95" stroke-linejoin="round" clip-path="url(#cbr)"/>
<rect x="527.5" y="425.8" width="26.3" height="7" fill="#fafafa" stroke="#d0d0d0" stroke-width="0.5"/>
<rect x="529.3" y="427" width="4.6" height="4.6" fill="#dfe4ff" stroke="#3a4ae0" stroke-width="0.5"/>
<path d="M530.1,429.4 l1.2,1.3 l2,-2.8" fill="none" stroke="#3a4ae0" stroke-width="0.7"/>
<text x="535.5" y="430.7" font-size="4.2" fill="#222" text-anchor="start" textLength="16.5" lengthAdjust="spacingAndGlyphs" >Absorption</text>
</g>
</g>
</svg>
</body></html>
